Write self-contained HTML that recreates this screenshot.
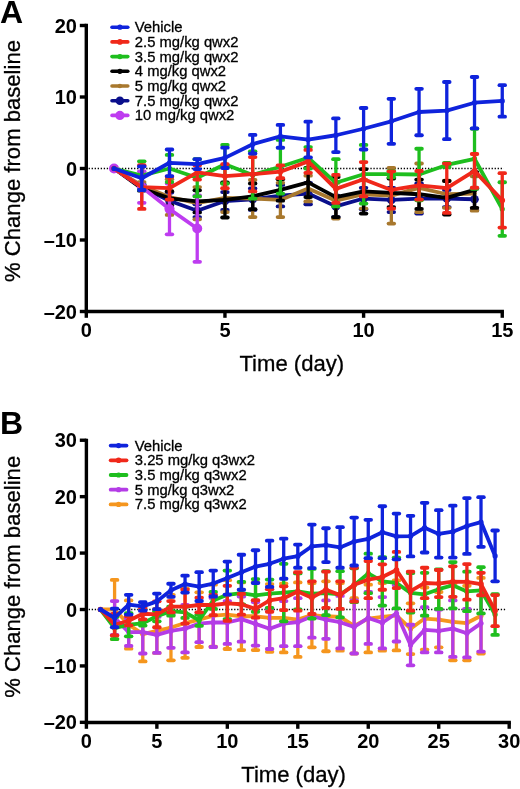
<!DOCTYPE html>
<html><head><meta charset="utf-8"><title>Figure</title>
<style>html,body{margin:0;padding:0;background:#fff;}body{width:520px;height:789px;overflow:hidden;}svg{display:block;}</style></head>
<body>
<svg width="520" height="789" viewBox="0 0 520 789">
<rect width="520" height="789" fill="#fff"/>
<line x1="88.6" y1="168.5" x2="503.75" y2="168.5" stroke="#000" stroke-width="1.3" stroke-dasharray="1.3 1.73"/>
<g stroke="#0a0f8c" fill="#0a0f8c"><line x1="141.76" y1="184.23" x2="141.76" y2="189.95" stroke-width="3.3"/><line x1="138.96" y1="184.23" x2="144.56" y2="184.23" stroke-width="3.8" stroke-linecap="round"/><line x1="138.96" y1="189.95" x2="144.56" y2="189.95" stroke-width="3.8" stroke-linecap="round"/><line x1="169.49" y1="192.6" x2="169.49" y2="208.75" stroke-width="3.3"/><line x1="166.69" y1="192.6" x2="172.29" y2="192.6" stroke-width="3.8" stroke-linecap="round"/><line x1="166.69" y1="208.75" x2="172.29" y2="208.75" stroke-width="3.8" stroke-linecap="round"/><line x1="197.22" y1="204.25" x2="197.22" y2="217.12" stroke-width="3.3"/><line x1="194.42" y1="204.25" x2="200.02" y2="204.25" stroke-width="3.8" stroke-linecap="round"/><line x1="194.42" y1="217.12" x2="200.02" y2="217.12" stroke-width="3.8" stroke-linecap="round"/><line x1="224.95" y1="192.09" x2="224.95" y2="209.97" stroke-width="3.3"/><line x1="222.15" y1="192.09" x2="227.75" y2="192.09" stroke-width="3.8" stroke-linecap="round"/><line x1="222.15" y1="209.97" x2="227.75" y2="209.97" stroke-width="3.8" stroke-linecap="round"/><line x1="252.68" y1="188.52" x2="252.68" y2="209.97" stroke-width="3.3"/><line x1="249.88" y1="188.52" x2="255.48" y2="188.52" stroke-width="3.8" stroke-linecap="round"/><line x1="249.88" y1="209.97" x2="255.48" y2="209.97" stroke-width="3.8" stroke-linecap="round"/><line x1="280.41" y1="184.94" x2="280.41" y2="206.4" stroke-width="3.3"/><line x1="277.61" y1="184.94" x2="283.21" y2="184.94" stroke-width="3.8" stroke-linecap="round"/><line x1="277.61" y1="206.4" x2="283.21" y2="206.4" stroke-width="3.8" stroke-linecap="round"/><line x1="308.14" y1="182.8" x2="308.14" y2="204.25" stroke-width="3.3"/><line x1="305.34" y1="182.8" x2="310.94" y2="182.8" stroke-width="3.8" stroke-linecap="round"/><line x1="305.34" y1="204.25" x2="310.94" y2="204.25" stroke-width="3.8" stroke-linecap="round"/><line x1="335.87" y1="195.67" x2="335.87" y2="217.12" stroke-width="3.3"/><line x1="333.07" y1="195.67" x2="338.67" y2="195.67" stroke-width="3.8" stroke-linecap="round"/><line x1="333.07" y1="217.12" x2="338.67" y2="217.12" stroke-width="3.8" stroke-linecap="round"/><line x1="363.6" y1="187.81" x2="363.6" y2="209.25" stroke-width="3.3"/><line x1="360.8" y1="187.81" x2="366.4" y2="187.81" stroke-width="3.8" stroke-linecap="round"/><line x1="360.8" y1="209.25" x2="366.4" y2="209.25" stroke-width="3.8" stroke-linecap="round"/><line x1="391.33" y1="187.81" x2="391.33" y2="212.12" stroke-width="3.3"/><line x1="388.53" y1="187.81" x2="394.13" y2="187.81" stroke-width="3.8" stroke-linecap="round"/><line x1="388.53" y1="212.12" x2="394.13" y2="212.12" stroke-width="3.8" stroke-linecap="round"/><line x1="419.06" y1="183.51" x2="419.06" y2="213.55" stroke-width="3.3"/><line x1="416.26" y1="183.51" x2="421.86" y2="183.51" stroke-width="3.8" stroke-linecap="round"/><line x1="416.26" y1="213.55" x2="421.86" y2="213.55" stroke-width="3.8" stroke-linecap="round"/><line x1="446.79" y1="189.95" x2="446.79" y2="207.11" stroke-width="3.3"/><line x1="443.99" y1="189.95" x2="449.59" y2="189.95" stroke-width="3.8" stroke-linecap="round"/><line x1="443.99" y1="207.11" x2="449.59" y2="207.11" stroke-width="3.8" stroke-linecap="round"/><line x1="474.52" y1="188.52" x2="474.52" y2="209.97" stroke-width="3.3"/><line x1="471.72" y1="188.52" x2="477.32" y2="188.52" stroke-width="3.8" stroke-linecap="round"/><line x1="471.72" y1="209.97" x2="477.32" y2="209.97" stroke-width="3.8" stroke-linecap="round"/><polyline points="114.03,168.5 141.76,187.09 169.49,200.68 197.22,210.69 224.95,201.03 252.68,199.25 280.41,195.67 308.14,193.53 335.87,206.4 363.6,198.53 391.33,199.96 419.06,198.53 446.79,198.53 474.52,199.25" fill="none" stroke-width="3.8" stroke-linejoin="round"/><circle cx="114.03" cy="168.5" r="4.3" stroke="none"/><circle cx="141.76" cy="187.09" r="4.3" stroke="none"/><circle cx="169.49" cy="200.68" r="4.3" stroke="none"/><circle cx="197.22" cy="210.69" r="4.3" stroke="none"/><circle cx="224.95" cy="201.03" r="4.3" stroke="none"/><circle cx="252.68" cy="199.25" r="4.3" stroke="none"/><circle cx="280.41" cy="195.67" r="4.3" stroke="none"/><circle cx="308.14" cy="193.53" r="4.3" stroke="none"/><circle cx="335.87" cy="206.4" r="4.3" stroke="none"/><circle cx="363.6" cy="198.53" r="4.3" stroke="none"/><circle cx="391.33" cy="199.96" r="4.3" stroke="none"/><circle cx="419.06" cy="198.53" r="4.3" stroke="none"/><circle cx="446.79" cy="198.53" r="4.3" stroke="none"/><circle cx="474.52" cy="199.25" r="4.3" stroke="none"/></g>
<g stroke="#a8782e" fill="#a8782e"><line x1="141.76" y1="182.09" x2="141.76" y2="189.24" stroke-width="3.3"/><line x1="138.96" y1="182.09" x2="144.56" y2="182.09" stroke-width="3.8" stroke-linecap="round"/><line x1="138.96" y1="189.24" x2="144.56" y2="189.24" stroke-width="3.8" stroke-linecap="round"/><line x1="169.49" y1="179.22" x2="169.49" y2="214.97" stroke-width="3.3"/><line x1="166.69" y1="179.22" x2="172.29" y2="179.22" stroke-width="3.8" stroke-linecap="round"/><line x1="166.69" y1="214.97" x2="172.29" y2="214.97" stroke-width="3.8" stroke-linecap="round"/><line x1="197.22" y1="187.09" x2="197.22" y2="219.26" stroke-width="3.3"/><line x1="194.42" y1="187.09" x2="200.02" y2="187.09" stroke-width="3.8" stroke-linecap="round"/><line x1="194.42" y1="219.26" x2="200.02" y2="219.26" stroke-width="3.8" stroke-linecap="round"/><line x1="224.95" y1="183.51" x2="224.95" y2="212.12" stroke-width="3.3"/><line x1="222.15" y1="183.51" x2="227.75" y2="183.51" stroke-width="3.8" stroke-linecap="round"/><line x1="222.15" y1="212.12" x2="227.75" y2="212.12" stroke-width="3.8" stroke-linecap="round"/><line x1="252.68" y1="179.94" x2="252.68" y2="217.12" stroke-width="3.3"/><line x1="249.88" y1="179.94" x2="255.48" y2="179.94" stroke-width="3.8" stroke-linecap="round"/><line x1="249.88" y1="217.12" x2="255.48" y2="217.12" stroke-width="3.8" stroke-linecap="round"/><line x1="280.41" y1="182.8" x2="280.41" y2="217.12" stroke-width="3.3"/><line x1="277.61" y1="182.8" x2="283.21" y2="182.8" stroke-width="3.8" stroke-linecap="round"/><line x1="277.61" y1="217.12" x2="283.21" y2="217.12" stroke-width="3.8" stroke-linecap="round"/><line x1="308.14" y1="175.65" x2="308.14" y2="201.39" stroke-width="3.3"/><line x1="305.34" y1="175.65" x2="310.94" y2="175.65" stroke-width="3.8" stroke-linecap="round"/><line x1="305.34" y1="201.39" x2="310.94" y2="201.39" stroke-width="3.8" stroke-linecap="round"/><line x1="335.87" y1="182.8" x2="335.87" y2="218.55" stroke-width="3.3"/><line x1="333.07" y1="182.8" x2="338.67" y2="182.8" stroke-width="3.8" stroke-linecap="round"/><line x1="333.07" y1="218.55" x2="338.67" y2="218.55" stroke-width="3.8" stroke-linecap="round"/><line x1="363.6" y1="179.94" x2="363.6" y2="208.54" stroke-width="3.3"/><line x1="360.8" y1="179.94" x2="366.4" y2="179.94" stroke-width="3.8" stroke-linecap="round"/><line x1="360.8" y1="208.54" x2="366.4" y2="208.54" stroke-width="3.8" stroke-linecap="round"/><line x1="391.33" y1="167.78" x2="391.33" y2="223.56" stroke-width="3.3"/><line x1="388.53" y1="167.78" x2="394.13" y2="167.78" stroke-width="3.8" stroke-linecap="round"/><line x1="388.53" y1="223.56" x2="394.13" y2="223.56" stroke-width="3.8" stroke-linecap="round"/><line x1="419.06" y1="163.5" x2="419.06" y2="212.12" stroke-width="3.3"/><line x1="416.26" y1="163.5" x2="421.86" y2="163.5" stroke-width="3.8" stroke-linecap="round"/><line x1="416.26" y1="212.12" x2="421.86" y2="212.12" stroke-width="3.8" stroke-linecap="round"/><line x1="446.79" y1="180.66" x2="446.79" y2="207.82" stroke-width="3.3"/><line x1="443.99" y1="180.66" x2="449.59" y2="180.66" stroke-width="3.8" stroke-linecap="round"/><line x1="443.99" y1="207.82" x2="449.59" y2="207.82" stroke-width="3.8" stroke-linecap="round"/><line x1="474.52" y1="176.37" x2="474.52" y2="210.69" stroke-width="3.3"/><line x1="471.72" y1="176.37" x2="477.32" y2="176.37" stroke-width="3.8" stroke-linecap="round"/><line x1="471.72" y1="210.69" x2="477.32" y2="210.69" stroke-width="3.8" stroke-linecap="round"/><polyline points="114.03,168.5 141.76,185.66 169.49,197.1 197.22,203.18 224.95,197.81 252.68,198.53 280.41,199.96 308.14,188.52 335.87,200.68 363.6,194.24 391.33,195.67 419.06,187.81 446.79,194.24 474.52,193.53" fill="none" stroke-width="3.8" stroke-linejoin="round"/><circle cx="114.03" cy="168.5" r="2.2" stroke="none"/><circle cx="141.76" cy="185.66" r="2.2" stroke="none"/><circle cx="169.49" cy="197.1" r="2.2" stroke="none"/><circle cx="197.22" cy="203.18" r="2.2" stroke="none"/><circle cx="224.95" cy="197.81" r="2.2" stroke="none"/><circle cx="252.68" cy="198.53" r="2.2" stroke="none"/><circle cx="280.41" cy="199.96" r="2.2" stroke="none"/><circle cx="308.14" cy="188.52" r="2.2" stroke="none"/><circle cx="335.87" cy="200.68" r="2.2" stroke="none"/><circle cx="363.6" cy="194.24" r="2.2" stroke="none"/><circle cx="391.33" cy="195.67" r="2.2" stroke="none"/><circle cx="419.06" cy="187.81" r="2.2" stroke="none"/><circle cx="446.79" cy="194.24" r="2.2" stroke="none"/><circle cx="474.52" cy="193.53" r="2.2" stroke="none"/></g>
<g stroke="#000000" fill="#000000"><line x1="141.76" y1="186.38" x2="141.76" y2="190.66" stroke-width="3.3"/><line x1="138.96" y1="186.38" x2="144.56" y2="186.38" stroke-width="3.8" stroke-linecap="round"/><line x1="138.96" y1="190.66" x2="144.56" y2="190.66" stroke-width="3.8" stroke-linecap="round"/><line x1="169.49" y1="191.17" x2="169.49" y2="205.47" stroke-width="3.3"/><line x1="166.69" y1="191.17" x2="172.29" y2="191.17" stroke-width="3.8" stroke-linecap="round"/><line x1="166.69" y1="205.47" x2="172.29" y2="205.47" stroke-width="3.8" stroke-linecap="round"/><line x1="197.22" y1="190.31" x2="197.22" y2="212.47" stroke-width="3.3"/><line x1="194.42" y1="190.31" x2="200.02" y2="190.31" stroke-width="3.8" stroke-linecap="round"/><line x1="194.42" y1="212.47" x2="200.02" y2="212.47" stroke-width="3.8" stroke-linecap="round"/><line x1="224.95" y1="182.44" x2="224.95" y2="217.48" stroke-width="3.3"/><line x1="222.15" y1="182.44" x2="227.75" y2="182.44" stroke-width="3.8" stroke-linecap="round"/><line x1="222.15" y1="217.48" x2="227.75" y2="217.48" stroke-width="3.8" stroke-linecap="round"/><line x1="252.68" y1="183.51" x2="252.68" y2="209.25" stroke-width="3.3"/><line x1="249.88" y1="183.51" x2="255.48" y2="183.51" stroke-width="3.8" stroke-linecap="round"/><line x1="249.88" y1="209.25" x2="255.48" y2="209.25" stroke-width="3.8" stroke-linecap="round"/><line x1="280.41" y1="179.22" x2="280.41" y2="200.68" stroke-width="3.3"/><line x1="277.61" y1="179.22" x2="283.21" y2="179.22" stroke-width="3.8" stroke-linecap="round"/><line x1="277.61" y1="200.68" x2="283.21" y2="200.68" stroke-width="3.8" stroke-linecap="round"/><line x1="308.14" y1="167.78" x2="308.14" y2="197.1" stroke-width="3.3"/><line x1="305.34" y1="167.78" x2="310.94" y2="167.78" stroke-width="3.8" stroke-linecap="round"/><line x1="305.34" y1="197.1" x2="310.94" y2="197.1" stroke-width="3.8" stroke-linecap="round"/><line x1="335.87" y1="177.08" x2="335.87" y2="217.12" stroke-width="3.3"/><line x1="333.07" y1="177.08" x2="338.67" y2="177.08" stroke-width="3.8" stroke-linecap="round"/><line x1="333.07" y1="217.12" x2="338.67" y2="217.12" stroke-width="3.8" stroke-linecap="round"/><line x1="363.6" y1="169.22" x2="363.6" y2="213.55" stroke-width="3.3"/><line x1="360.8" y1="169.22" x2="366.4" y2="169.22" stroke-width="3.8" stroke-linecap="round"/><line x1="360.8" y1="213.55" x2="366.4" y2="213.55" stroke-width="3.8" stroke-linecap="round"/><line x1="391.33" y1="178.51" x2="391.33" y2="207.11" stroke-width="3.3"/><line x1="388.53" y1="178.51" x2="394.13" y2="178.51" stroke-width="3.8" stroke-linecap="round"/><line x1="388.53" y1="207.11" x2="394.13" y2="207.11" stroke-width="3.8" stroke-linecap="round"/><line x1="419.06" y1="179.58" x2="419.06" y2="208.9" stroke-width="3.3"/><line x1="416.26" y1="179.58" x2="421.86" y2="179.58" stroke-width="3.8" stroke-linecap="round"/><line x1="416.26" y1="208.9" x2="421.86" y2="208.9" stroke-width="3.8" stroke-linecap="round"/><line x1="446.79" y1="181.01" x2="446.79" y2="214.62" stroke-width="3.3"/><line x1="443.99" y1="181.01" x2="449.59" y2="181.01" stroke-width="3.8" stroke-linecap="round"/><line x1="443.99" y1="214.62" x2="449.59" y2="214.62" stroke-width="3.8" stroke-linecap="round"/><line x1="474.52" y1="172.07" x2="474.52" y2="207.82" stroke-width="3.3"/><line x1="471.72" y1="172.07" x2="477.32" y2="172.07" stroke-width="3.8" stroke-linecap="round"/><line x1="471.72" y1="207.82" x2="477.32" y2="207.82" stroke-width="3.8" stroke-linecap="round"/><polyline points="114.03,168.5 141.76,188.52 169.49,198.32 197.22,201.39 224.95,199.96 252.68,196.38 280.41,189.95 308.14,182.44 335.87,197.1 363.6,191.38 391.33,192.81 419.06,194.24 446.79,197.81 474.52,189.95" fill="none" stroke-width="3.8" stroke-linejoin="round"/><circle cx="114.03" cy="168.5" r="2.6" stroke="none"/><circle cx="141.76" cy="188.52" r="2.6" stroke="none"/><circle cx="169.49" cy="198.32" r="2.6" stroke="none"/><circle cx="197.22" cy="201.39" r="2.6" stroke="none"/><circle cx="224.95" cy="199.96" r="2.6" stroke="none"/><circle cx="252.68" cy="196.38" r="2.6" stroke="none"/><circle cx="280.41" cy="189.95" r="2.6" stroke="none"/><circle cx="308.14" cy="182.44" r="2.6" stroke="none"/><circle cx="335.87" cy="197.1" r="2.6" stroke="none"/><circle cx="363.6" cy="191.38" r="2.6" stroke="none"/><circle cx="391.33" cy="192.81" r="2.6" stroke="none"/><circle cx="419.06" cy="194.24" r="2.6" stroke="none"/><circle cx="446.79" cy="197.81" r="2.6" stroke="none"/><circle cx="474.52" cy="189.95" r="2.6" stroke="none"/></g>
<g stroke="#be3cf0" fill="#be3cf0"><line x1="141.76" y1="171.36" x2="141.76" y2="202.82" stroke-width="3.3"/><line x1="138.96" y1="171.36" x2="144.56" y2="171.36" stroke-width="3.8" stroke-linecap="round"/><line x1="138.96" y1="202.82" x2="144.56" y2="202.82" stroke-width="3.8" stroke-linecap="round"/><line x1="169.49" y1="183.59" x2="169.49" y2="234.35" stroke-width="3.3"/><line x1="166.69" y1="183.59" x2="172.29" y2="183.59" stroke-width="3.8" stroke-linecap="round"/><line x1="166.69" y1="234.35" x2="172.29" y2="234.35" stroke-width="3.8" stroke-linecap="round"/><line x1="197.22" y1="195.31" x2="197.22" y2="261.81" stroke-width="3.3"/><line x1="194.42" y1="195.31" x2="200.02" y2="195.31" stroke-width="3.8" stroke-linecap="round"/><line x1="194.42" y1="261.81" x2="200.02" y2="261.81" stroke-width="3.8" stroke-linecap="round"/><polyline points="114.03,168.5 141.76,187.09 169.49,208.97 197.22,228.56" fill="none" stroke-width="3.8" stroke-linejoin="round"/><circle cx="114.03" cy="168.5" r="5.0" stroke="none"/><circle cx="141.76" cy="187.09" r="5.0" stroke="none"/><circle cx="169.49" cy="208.97" r="5.0" stroke="none"/><circle cx="197.22" cy="228.56" r="5.0" stroke="none"/></g>
<g stroke="#1ebe1e" fill="#1ebe1e"><line x1="141.76" y1="161.35" x2="141.76" y2="189.95" stroke-width="3.3"/><line x1="138.96" y1="161.35" x2="144.56" y2="161.35" stroke-width="3.8" stroke-linecap="round"/><line x1="138.96" y1="189.95" x2="144.56" y2="189.95" stroke-width="3.8" stroke-linecap="round"/><line x1="169.49" y1="154.91" x2="169.49" y2="182.09" stroke-width="3.3"/><line x1="166.69" y1="154.91" x2="172.29" y2="154.91" stroke-width="3.8" stroke-linecap="round"/><line x1="166.69" y1="182.09" x2="172.29" y2="182.09" stroke-width="3.8" stroke-linecap="round"/><line x1="197.22" y1="159.21" x2="197.22" y2="196.38" stroke-width="3.3"/><line x1="194.42" y1="159.21" x2="200.02" y2="159.21" stroke-width="3.8" stroke-linecap="round"/><line x1="194.42" y1="196.38" x2="200.02" y2="196.38" stroke-width="3.8" stroke-linecap="round"/><line x1="224.95" y1="144.91" x2="224.95" y2="183.51" stroke-width="3.3"/><line x1="222.15" y1="144.91" x2="227.75" y2="144.91" stroke-width="3.8" stroke-linecap="round"/><line x1="222.15" y1="183.51" x2="227.75" y2="183.51" stroke-width="3.8" stroke-linecap="round"/><line x1="252.68" y1="151.34" x2="252.68" y2="198.53" stroke-width="3.3"/><line x1="249.88" y1="151.34" x2="255.48" y2="151.34" stroke-width="3.8" stroke-linecap="round"/><line x1="249.88" y1="198.53" x2="255.48" y2="198.53" stroke-width="3.8" stroke-linecap="round"/><line x1="280.41" y1="139.9" x2="280.41" y2="193.53" stroke-width="3.3"/><line x1="277.61" y1="139.9" x2="283.21" y2="139.9" stroke-width="3.8" stroke-linecap="round"/><line x1="277.61" y1="193.53" x2="283.21" y2="193.53" stroke-width="3.8" stroke-linecap="round"/><line x1="308.14" y1="147.05" x2="308.14" y2="168.5" stroke-width="3.3"/><line x1="305.34" y1="147.05" x2="310.94" y2="147.05" stroke-width="3.8" stroke-linecap="round"/><line x1="305.34" y1="168.5" x2="310.94" y2="168.5" stroke-width="3.8" stroke-linecap="round"/><line x1="335.87" y1="159.21" x2="335.87" y2="206.4" stroke-width="3.3"/><line x1="333.07" y1="159.21" x2="338.67" y2="159.21" stroke-width="3.8" stroke-linecap="round"/><line x1="333.07" y1="206.4" x2="338.67" y2="206.4" stroke-width="3.8" stroke-linecap="round"/><line x1="363.6" y1="144.91" x2="363.6" y2="203.53" stroke-width="3.3"/><line x1="360.8" y1="144.91" x2="366.4" y2="144.91" stroke-width="3.8" stroke-linecap="round"/><line x1="360.8" y1="203.53" x2="366.4" y2="203.53" stroke-width="3.8" stroke-linecap="round"/><line x1="391.33" y1="170.86" x2="391.33" y2="177.29" stroke-width="3.3"/><line x1="388.53" y1="170.86" x2="394.13" y2="170.86" stroke-width="3.8" stroke-linecap="round"/><line x1="388.53" y1="177.29" x2="394.13" y2="177.29" stroke-width="3.8" stroke-linecap="round"/><line x1="419.06" y1="148.77" x2="419.06" y2="200.25" stroke-width="3.3"/><line x1="416.26" y1="148.77" x2="421.86" y2="148.77" stroke-width="3.8" stroke-linecap="round"/><line x1="416.26" y1="200.25" x2="421.86" y2="200.25" stroke-width="3.8" stroke-linecap="round"/><line x1="446.79" y1="162.78" x2="446.79" y2="167.07" stroke-width="3.3"/><line x1="443.99" y1="162.78" x2="449.59" y2="162.78" stroke-width="3.8" stroke-linecap="round"/><line x1="443.99" y1="167.07" x2="449.59" y2="167.07" stroke-width="3.8" stroke-linecap="round"/><line x1="474.52" y1="128.75" x2="474.52" y2="188.81" stroke-width="3.3"/><line x1="471.72" y1="128.75" x2="477.32" y2="128.75" stroke-width="3.8" stroke-linecap="round"/><line x1="471.72" y1="188.81" x2="477.32" y2="188.81" stroke-width="3.8" stroke-linecap="round"/><line x1="502.25" y1="182.23" x2="502.25" y2="235.85" stroke-width="3.3"/><line x1="499.45" y1="182.23" x2="505.05" y2="182.23" stroke-width="3.8" stroke-linecap="round"/><line x1="499.45" y1="235.85" x2="505.05" y2="235.85" stroke-width="3.8" stroke-linecap="round"/><polyline points="114.03,168.5 141.76,175.65 169.49,168.5 197.22,177.79 224.95,164.21 252.68,174.94 280.41,166.71 308.14,157.78 335.87,182.8 363.6,174.22 391.33,174.08 419.06,174.51 446.79,164.93 474.52,158.78 502.25,209.04" fill="none" stroke-width="3.8" stroke-linejoin="round"/><circle cx="114.03" cy="168.5" r="2.6" stroke="none"/><circle cx="141.76" cy="175.65" r="2.6" stroke="none"/><circle cx="169.49" cy="168.5" r="2.6" stroke="none"/><circle cx="197.22" cy="177.79" r="2.6" stroke="none"/><circle cx="224.95" cy="164.21" r="2.6" stroke="none"/><circle cx="252.68" cy="174.94" r="2.6" stroke="none"/><circle cx="280.41" cy="166.71" r="2.6" stroke="none"/><circle cx="308.14" cy="157.78" r="2.6" stroke="none"/><circle cx="335.87" cy="182.8" r="2.6" stroke="none"/><circle cx="363.6" cy="174.22" r="2.6" stroke="none"/><circle cx="391.33" cy="174.08" r="2.6" stroke="none"/><circle cx="419.06" cy="174.51" r="2.6" stroke="none"/><circle cx="446.79" cy="164.93" r="2.6" stroke="none"/><circle cx="474.52" cy="158.78" r="2.6" stroke="none"/><circle cx="502.25" cy="209.04" r="2.6" stroke="none"/></g>
<g stroke="#f0281a" fill="#f0281a"><line x1="141.76" y1="165.21" x2="141.76" y2="208.97" stroke-width="3.3"/><line x1="138.96" y1="165.21" x2="144.56" y2="165.21" stroke-width="3.8" stroke-linecap="round"/><line x1="138.96" y1="208.97" x2="144.56" y2="208.97" stroke-width="3.8" stroke-linecap="round"/><line x1="169.49" y1="176.72" x2="169.49" y2="199.6" stroke-width="3.3"/><line x1="166.69" y1="176.72" x2="172.29" y2="176.72" stroke-width="3.8" stroke-linecap="round"/><line x1="166.69" y1="199.6" x2="172.29" y2="199.6" stroke-width="3.8" stroke-linecap="round"/><line x1="197.22" y1="165.28" x2="197.22" y2="179.58" stroke-width="3.3"/><line x1="194.42" y1="165.28" x2="200.02" y2="165.28" stroke-width="3.8" stroke-linecap="round"/><line x1="194.42" y1="179.58" x2="200.02" y2="179.58" stroke-width="3.8" stroke-linecap="round"/><line x1="224.95" y1="164.21" x2="224.95" y2="188.23" stroke-width="3.3"/><line x1="222.15" y1="164.21" x2="227.75" y2="164.21" stroke-width="3.8" stroke-linecap="round"/><line x1="222.15" y1="188.23" x2="227.75" y2="188.23" stroke-width="3.8" stroke-linecap="round"/><line x1="252.68" y1="157.06" x2="252.68" y2="191.38" stroke-width="3.3"/><line x1="249.88" y1="157.06" x2="255.48" y2="157.06" stroke-width="3.8" stroke-linecap="round"/><line x1="249.88" y1="191.38" x2="255.48" y2="191.38" stroke-width="3.8" stroke-linecap="round"/><line x1="280.41" y1="165.28" x2="280.41" y2="178.15" stroke-width="3.3"/><line x1="277.61" y1="165.28" x2="283.21" y2="165.28" stroke-width="3.8" stroke-linecap="round"/><line x1="277.61" y1="178.15" x2="283.21" y2="178.15" stroke-width="3.8" stroke-linecap="round"/><line x1="308.14" y1="149.91" x2="308.14" y2="172.79" stroke-width="3.3"/><line x1="305.34" y1="149.91" x2="310.94" y2="149.91" stroke-width="3.8" stroke-linecap="round"/><line x1="305.34" y1="172.79" x2="310.94" y2="172.79" stroke-width="3.8" stroke-linecap="round"/><line x1="335.87" y1="174.94" x2="335.87" y2="202.82" stroke-width="3.3"/><line x1="333.07" y1="174.94" x2="338.67" y2="174.94" stroke-width="3.8" stroke-linecap="round"/><line x1="333.07" y1="202.82" x2="338.67" y2="202.82" stroke-width="3.8" stroke-linecap="round"/><line x1="363.6" y1="162.06" x2="363.6" y2="196.38" stroke-width="3.3"/><line x1="360.8" y1="162.06" x2="366.4" y2="162.06" stroke-width="3.8" stroke-linecap="round"/><line x1="360.8" y1="196.38" x2="366.4" y2="196.38" stroke-width="3.8" stroke-linecap="round"/><line x1="391.33" y1="171.36" x2="391.33" y2="208.54" stroke-width="3.3"/><line x1="388.53" y1="171.36" x2="394.13" y2="171.36" stroke-width="3.8" stroke-linecap="round"/><line x1="388.53" y1="208.54" x2="394.13" y2="208.54" stroke-width="3.8" stroke-linecap="round"/><line x1="419.06" y1="171" x2="419.06" y2="199.6" stroke-width="3.3"/><line x1="416.26" y1="171" x2="421.86" y2="171" stroke-width="3.8" stroke-linecap="round"/><line x1="416.26" y1="199.6" x2="421.86" y2="199.6" stroke-width="3.8" stroke-linecap="round"/><line x1="446.79" y1="163.57" x2="446.79" y2="212.9" stroke-width="3.3"/><line x1="443.99" y1="163.57" x2="449.59" y2="163.57" stroke-width="3.8" stroke-linecap="round"/><line x1="443.99" y1="212.9" x2="449.59" y2="212.9" stroke-width="3.8" stroke-linecap="round"/><line x1="474.52" y1="153.99" x2="474.52" y2="187.73" stroke-width="3.3"/><line x1="471.72" y1="153.99" x2="477.32" y2="153.99" stroke-width="3.8" stroke-linecap="round"/><line x1="471.72" y1="187.73" x2="477.32" y2="187.73" stroke-width="3.8" stroke-linecap="round"/><line x1="502.25" y1="173.22" x2="502.25" y2="227.56" stroke-width="3.3"/><line x1="499.45" y1="173.22" x2="505.05" y2="173.22" stroke-width="3.8" stroke-linecap="round"/><line x1="499.45" y1="227.56" x2="505.05" y2="227.56" stroke-width="3.8" stroke-linecap="round"/><polyline points="114.03,168.5 141.76,187.09 169.49,188.16 197.22,172.43 224.95,176.22 252.68,174.22 280.41,171.72 308.14,161.35 335.87,188.88 363.6,179.22 391.33,189.95 419.06,185.3 446.79,188.23 474.52,170.86 502.25,200.39" fill="none" stroke-width="3.8" stroke-linejoin="round"/><circle cx="114.03" cy="168.5" r="2.8" stroke="none"/><circle cx="141.76" cy="187.09" r="2.8" stroke="none"/><circle cx="169.49" cy="188.16" r="2.8" stroke="none"/><circle cx="197.22" cy="172.43" r="2.8" stroke="none"/><circle cx="224.95" cy="176.22" r="2.8" stroke="none"/><circle cx="252.68" cy="174.22" r="2.8" stroke="none"/><circle cx="280.41" cy="171.72" r="2.8" stroke="none"/><circle cx="308.14" cy="161.35" r="2.8" stroke="none"/><circle cx="335.87" cy="188.88" r="2.8" stroke="none"/><circle cx="363.6" cy="179.22" r="2.8" stroke="none"/><circle cx="391.33" cy="189.95" r="2.8" stroke="none"/><circle cx="419.06" cy="185.3" r="2.8" stroke="none"/><circle cx="446.79" cy="188.23" r="2.8" stroke="none"/><circle cx="474.52" cy="170.86" r="2.8" stroke="none"/><circle cx="502.25" cy="200.39" r="2.8" stroke="none"/></g>
<g stroke="#0f23dc" fill="#0f23dc"><line x1="141.76" y1="166.43" x2="141.76" y2="190.02" stroke-width="3.3"/><line x1="138.96" y1="166.43" x2="144.56" y2="166.43" stroke-width="3.8" stroke-linecap="round"/><line x1="138.96" y1="190.02" x2="144.56" y2="190.02" stroke-width="3.8" stroke-linecap="round"/><line x1="169.49" y1="149.48" x2="169.49" y2="176.08" stroke-width="3.3"/><line x1="166.69" y1="149.48" x2="172.29" y2="149.48" stroke-width="3.8" stroke-linecap="round"/><line x1="166.69" y1="176.08" x2="172.29" y2="176.08" stroke-width="3.8" stroke-linecap="round"/><line x1="197.22" y1="159.06" x2="197.22" y2="169.07" stroke-width="3.3"/><line x1="194.42" y1="159.06" x2="200.02" y2="159.06" stroke-width="3.8" stroke-linecap="round"/><line x1="194.42" y1="169.07" x2="200.02" y2="169.07" stroke-width="3.8" stroke-linecap="round"/><line x1="224.95" y1="147.69" x2="224.95" y2="168" stroke-width="3.3"/><line x1="222.15" y1="147.69" x2="227.75" y2="147.69" stroke-width="3.8" stroke-linecap="round"/><line x1="222.15" y1="168" x2="227.75" y2="168" stroke-width="3.8" stroke-linecap="round"/><line x1="252.68" y1="134.89" x2="252.68" y2="153.49" stroke-width="3.3"/><line x1="249.88" y1="134.89" x2="255.48" y2="134.89" stroke-width="3.8" stroke-linecap="round"/><line x1="249.88" y1="153.49" x2="255.48" y2="153.49" stroke-width="3.8" stroke-linecap="round"/><line x1="280.41" y1="124.88" x2="280.41" y2="147.76" stroke-width="3.3"/><line x1="277.61" y1="124.88" x2="283.21" y2="124.88" stroke-width="3.8" stroke-linecap="round"/><line x1="277.61" y1="147.76" x2="283.21" y2="147.76" stroke-width="3.8" stroke-linecap="round"/><line x1="308.14" y1="121.67" x2="308.14" y2="157.42" stroke-width="3.3"/><line x1="305.34" y1="121.67" x2="310.94" y2="121.67" stroke-width="3.8" stroke-linecap="round"/><line x1="305.34" y1="157.42" x2="310.94" y2="157.42" stroke-width="3.8" stroke-linecap="round"/><line x1="335.87" y1="118.45" x2="335.87" y2="152.06" stroke-width="3.3"/><line x1="333.07" y1="118.45" x2="338.67" y2="118.45" stroke-width="3.8" stroke-linecap="round"/><line x1="333.07" y1="152.06" x2="338.67" y2="152.06" stroke-width="3.8" stroke-linecap="round"/><line x1="363.6" y1="108.01" x2="363.6" y2="149.48" stroke-width="3.3"/><line x1="360.8" y1="108.01" x2="366.4" y2="108.01" stroke-width="3.8" stroke-linecap="round"/><line x1="360.8" y1="149.48" x2="366.4" y2="149.48" stroke-width="3.8" stroke-linecap="round"/><line x1="391.33" y1="98.79" x2="391.33" y2="143.83" stroke-width="3.3"/><line x1="388.53" y1="98.79" x2="394.13" y2="98.79" stroke-width="3.8" stroke-linecap="round"/><line x1="388.53" y1="143.83" x2="394.13" y2="143.83" stroke-width="3.8" stroke-linecap="round"/><line x1="419.06" y1="88.78" x2="419.06" y2="135.25" stroke-width="3.3"/><line x1="416.26" y1="88.78" x2="421.86" y2="88.78" stroke-width="3.8" stroke-linecap="round"/><line x1="416.26" y1="135.25" x2="421.86" y2="135.25" stroke-width="3.8" stroke-linecap="round"/><line x1="446.79" y1="81.98" x2="446.79" y2="139.19" stroke-width="3.3"/><line x1="443.99" y1="81.98" x2="449.59" y2="81.98" stroke-width="3.8" stroke-linecap="round"/><line x1="443.99" y1="139.19" x2="449.59" y2="139.19" stroke-width="3.8" stroke-linecap="round"/><line x1="474.52" y1="76.98" x2="474.52" y2="128.46" stroke-width="3.3"/><line x1="471.72" y1="76.98" x2="477.32" y2="76.98" stroke-width="3.8" stroke-linecap="round"/><line x1="471.72" y1="128.46" x2="477.32" y2="128.46" stroke-width="3.8" stroke-linecap="round"/><line x1="502.25" y1="85.2" x2="502.25" y2="116.66" stroke-width="3.3"/><line x1="499.45" y1="85.2" x2="505.05" y2="85.2" stroke-width="3.8" stroke-linecap="round"/><line x1="499.45" y1="116.66" x2="505.05" y2="116.66" stroke-width="3.8" stroke-linecap="round"/><polyline points="114.03,168.5 141.76,178.22 169.49,162.78 197.22,164.07 224.95,157.85 252.68,144.19 280.41,136.32 308.14,139.54 335.87,135.25 363.6,128.75 391.33,121.31 419.06,112.01 446.79,110.59 474.52,102.72 502.25,100.93" fill="none" stroke-width="3.8" stroke-linejoin="round"/><circle cx="114.03" cy="168.5" r="2.6" stroke="none"/><circle cx="141.76" cy="178.22" r="2.6" stroke="none"/><circle cx="169.49" cy="162.78" r="2.6" stroke="none"/><circle cx="197.22" cy="164.07" r="2.6" stroke="none"/><circle cx="224.95" cy="157.85" r="2.6" stroke="none"/><circle cx="252.68" cy="144.19" r="2.6" stroke="none"/><circle cx="280.41" cy="136.32" r="2.6" stroke="none"/><circle cx="308.14" cy="139.54" r="2.6" stroke="none"/><circle cx="335.87" cy="135.25" r="2.6" stroke="none"/><circle cx="363.6" cy="128.75" r="2.6" stroke="none"/><circle cx="391.33" cy="121.31" r="2.6" stroke="none"/><circle cx="419.06" cy="112.01" r="2.6" stroke="none"/><circle cx="446.79" cy="110.59" r="2.6" stroke="none"/><circle cx="474.52" cy="102.72" r="2.6" stroke="none"/><circle cx="502.25" cy="100.93" r="2.6" stroke="none"/></g>
<g stroke="#000" stroke-width="3.4" fill="none">
<path d="M86.3 23.8 V311.5 H503.95 V311.5" stroke-linejoin="miter"/>
<line x1="79.8" y1="25.5" x2="86.3" y2="25.5"/>
<line x1="79.8" y1="97" x2="86.3" y2="97"/>
<line x1="79.8" y1="168.5" x2="86.3" y2="168.5"/>
<line x1="79.8" y1="240" x2="86.3" y2="240"/>
<line x1="79.8" y1="311.5" x2="86.3" y2="311.5"/>
<line x1="86.3" y1="311.5" x2="86.3" y2="317.8"/>
<line x1="224.95" y1="311.5" x2="224.95" y2="317.8"/>
<line x1="363.6" y1="311.5" x2="363.6" y2="317.8"/>
<line x1="502.25" y1="311.5" x2="502.25" y2="317.8"/>
</g>
<g font-family="Liberation Sans, Arial, sans-serif" font-weight="bold" font-size="20" fill="#000">
<text x="77" y="32.5" text-anchor="end">20</text>
<text x="77" y="104" text-anchor="end">10</text>
<text x="77" y="175.5" text-anchor="end">0</text>
<text x="77" y="247" text-anchor="end">–10</text>
<text x="77" y="318.5" text-anchor="end">–20</text>
<text x="86.3" y="336.5" text-anchor="middle">0</text>
<text x="224.95" y="336.5" text-anchor="middle">5</text>
<text x="363.6" y="336.5" text-anchor="middle">10</text>
<text x="502.25" y="336.5" text-anchor="middle">15</text>
</g>
<g font-family="Liberation Sans, Arial, sans-serif" font-size="14.8" fill="#000">
<line x1="112" y1="27.2" x2="127.8" y2="27.2" stroke="#0f23dc" stroke-width="3.6" stroke-linecap="round"/>
<circle cx="119.9" cy="27.2" r="2.6" fill="#0f23dc"/>
<text x="134.8" y="32.2" stroke="#000" stroke-width="0.3">Vehicle</text>
<line x1="112" y1="41.9" x2="127.8" y2="41.9" stroke="#f0281a" stroke-width="3.6" stroke-linecap="round"/>
<circle cx="119.9" cy="41.9" r="2.8" fill="#f0281a"/>
<text x="134.8" y="46.9" stroke="#000" stroke-width="0.3">2.5 mg/kg qwx2</text>
<line x1="112" y1="56.6" x2="127.8" y2="56.6" stroke="#1ebe1e" stroke-width="3.6" stroke-linecap="round"/>
<circle cx="119.9" cy="56.6" r="2.6" fill="#1ebe1e"/>
<text x="134.8" y="61.6" stroke="#000" stroke-width="0.3">3.5 mg/kg qwx2</text>
<line x1="112" y1="71.3" x2="127.8" y2="71.3" stroke="#000000" stroke-width="3.6" stroke-linecap="round"/>
<circle cx="119.9" cy="71.3" r="2.6" fill="#000000"/>
<text x="134.8" y="76.3" stroke="#000" stroke-width="0.3">4 mg/kg qwx2</text>
<line x1="112" y1="86" x2="127.8" y2="86" stroke="#a8782e" stroke-width="3.6" stroke-linecap="round"/>
<circle cx="119.9" cy="86" r="2.2" fill="#a8782e"/>
<text x="134.8" y="91" stroke="#000" stroke-width="0.3">5 mg/kg qwx2</text>
<line x1="112" y1="100.7" x2="127.8" y2="100.7" stroke="#0a0f8c" stroke-width="3.6" stroke-linecap="round"/>
<circle cx="119.9" cy="100.7" r="4.3" fill="#0a0f8c"/>
<text x="134.8" y="105.7" stroke="#000" stroke-width="0.3">7.5 mg/kg qwx2</text>
<line x1="112" y1="115.4" x2="127.8" y2="115.4" stroke="#be3cf0" stroke-width="3.6" stroke-linecap="round"/>
<circle cx="119.9" cy="115.4" r="4.6" fill="#be3cf0"/>
<text x="134.8" y="120.4" stroke="#000" stroke-width="0.3">10 mg/kg qwx2</text>
</g>
<line x1="88.7" y1="609.5" x2="506.69" y2="609.5" stroke="#000" stroke-width="1.3" stroke-dasharray="1.3 1.73"/>
<g stroke="#f5961e" fill="#f5961e"><line x1="114.59" y1="579.88" x2="114.59" y2="639.12" stroke-width="3.3"/><line x1="111.79" y1="579.88" x2="117.39" y2="579.88" stroke-width="3.8" stroke-linecap="round"/><line x1="111.79" y1="639.12" x2="117.39" y2="639.12" stroke-width="3.8" stroke-linecap="round"/><line x1="128.68" y1="600.47" x2="128.68" y2="648.66" stroke-width="3.3"/><line x1="125.88" y1="600.47" x2="131.48" y2="600.47" stroke-width="3.8" stroke-linecap="round"/><line x1="125.88" y1="648.66" x2="131.48" y2="648.66" stroke-width="3.8" stroke-linecap="round"/><line x1="142.77" y1="606.68" x2="142.77" y2="661.41" stroke-width="3.3"/><line x1="139.97" y1="606.68" x2="145.57" y2="606.68" stroke-width="3.8" stroke-linecap="round"/><line x1="139.97" y1="661.41" x2="145.57" y2="661.41" stroke-width="3.8" stroke-linecap="round"/><line x1="156.87" y1="608.94" x2="156.87" y2="652.94" stroke-width="3.3"/><line x1="154.06" y1="608.94" x2="159.67" y2="608.94" stroke-width="3.8" stroke-linecap="round"/><line x1="154.06" y1="652.94" x2="159.67" y2="652.94" stroke-width="3.8" stroke-linecap="round"/><line x1="170.96" y1="594.83" x2="170.96" y2="660.28" stroke-width="3.3"/><line x1="168.16" y1="594.83" x2="173.76" y2="594.83" stroke-width="3.8" stroke-linecap="round"/><line x1="168.16" y1="660.28" x2="173.76" y2="660.28" stroke-width="3.8" stroke-linecap="round"/><line x1="185.05" y1="588.29" x2="185.05" y2="657.8" stroke-width="3.3"/><line x1="182.25" y1="588.29" x2="187.85" y2="588.29" stroke-width="3.8" stroke-linecap="round"/><line x1="182.25" y1="657.8" x2="187.85" y2="657.8" stroke-width="3.8" stroke-linecap="round"/><line x1="199.14" y1="592.29" x2="199.14" y2="647.02" stroke-width="3.3"/><line x1="196.34" y1="592.29" x2="201.94" y2="592.29" stroke-width="3.8" stroke-linecap="round"/><line x1="196.34" y1="647.02" x2="201.94" y2="647.02" stroke-width="3.8" stroke-linecap="round"/><line x1="213.24" y1="584.68" x2="213.24" y2="646.74" stroke-width="3.3"/><line x1="210.44" y1="584.68" x2="216.04" y2="584.68" stroke-width="3.8" stroke-linecap="round"/><line x1="210.44" y1="646.74" x2="216.04" y2="646.74" stroke-width="3.8" stroke-linecap="round"/><line x1="227.33" y1="580.16" x2="227.33" y2="648.99" stroke-width="3.3"/><line x1="224.53" y1="580.16" x2="230.13" y2="580.16" stroke-width="3.8" stroke-linecap="round"/><line x1="224.53" y1="648.99" x2="230.13" y2="648.99" stroke-width="3.8" stroke-linecap="round"/><line x1="241.42" y1="582.42" x2="241.42" y2="650.12" stroke-width="3.3"/><line x1="238.62" y1="582.42" x2="244.22" y2="582.42" stroke-width="3.8" stroke-linecap="round"/><line x1="238.62" y1="650.12" x2="244.22" y2="650.12" stroke-width="3.8" stroke-linecap="round"/><line x1="255.52" y1="582.42" x2="255.52" y2="650.12" stroke-width="3.3"/><line x1="252.72" y1="582.42" x2="258.32" y2="582.42" stroke-width="3.8" stroke-linecap="round"/><line x1="252.72" y1="650.12" x2="258.32" y2="650.12" stroke-width="3.8" stroke-linecap="round"/><line x1="269.61" y1="584.11" x2="269.61" y2="651.82" stroke-width="3.3"/><line x1="266.81" y1="584.11" x2="272.41" y2="584.11" stroke-width="3.8" stroke-linecap="round"/><line x1="266.81" y1="651.82" x2="272.41" y2="651.82" stroke-width="3.8" stroke-linecap="round"/><line x1="283.7" y1="583.55" x2="283.7" y2="652.38" stroke-width="3.3"/><line x1="280.9" y1="583.55" x2="286.5" y2="583.55" stroke-width="3.8" stroke-linecap="round"/><line x1="280.9" y1="652.38" x2="286.5" y2="652.38" stroke-width="3.8" stroke-linecap="round"/><line x1="297.8" y1="582.42" x2="297.8" y2="656.89" stroke-width="3.3"/><line x1="295" y1="582.42" x2="300.6" y2="582.42" stroke-width="3.8" stroke-linecap="round"/><line x1="295" y1="656.89" x2="300.6" y2="656.89" stroke-width="3.8" stroke-linecap="round"/><line x1="311.89" y1="582.98" x2="311.89" y2="647.3" stroke-width="3.3"/><line x1="309.09" y1="582.98" x2="314.69" y2="582.98" stroke-width="3.8" stroke-linecap="round"/><line x1="309.09" y1="647.3" x2="314.69" y2="647.3" stroke-width="3.8" stroke-linecap="round"/><line x1="325.98" y1="581.29" x2="325.98" y2="651.25" stroke-width="3.3"/><line x1="323.18" y1="581.29" x2="328.78" y2="581.29" stroke-width="3.8" stroke-linecap="round"/><line x1="323.18" y1="651.25" x2="328.78" y2="651.25" stroke-width="3.8" stroke-linecap="round"/><line x1="340.07" y1="582.98" x2="340.07" y2="650.69" stroke-width="3.3"/><line x1="337.27" y1="582.98" x2="342.87" y2="582.98" stroke-width="3.8" stroke-linecap="round"/><line x1="337.27" y1="650.69" x2="342.87" y2="650.69" stroke-width="3.8" stroke-linecap="round"/><line x1="354.17" y1="598.22" x2="354.17" y2="653.51" stroke-width="3.3"/><line x1="351.37" y1="598.22" x2="356.97" y2="598.22" stroke-width="3.8" stroke-linecap="round"/><line x1="351.37" y1="653.51" x2="356.97" y2="653.51" stroke-width="3.8" stroke-linecap="round"/><line x1="368.26" y1="584.68" x2="368.26" y2="652.38" stroke-width="3.3"/><line x1="365.46" y1="584.68" x2="371.06" y2="584.68" stroke-width="3.8" stroke-linecap="round"/><line x1="365.46" y1="652.38" x2="371.06" y2="652.38" stroke-width="3.8" stroke-linecap="round"/><line x1="382.35" y1="582.98" x2="382.35" y2="650.69" stroke-width="3.3"/><line x1="379.55" y1="582.98" x2="385.15" y2="582.98" stroke-width="3.8" stroke-linecap="round"/><line x1="379.55" y1="650.69" x2="385.15" y2="650.69" stroke-width="3.8" stroke-linecap="round"/><line x1="396.45" y1="580.44" x2="396.45" y2="650.4" stroke-width="3.3"/><line x1="393.65" y1="580.44" x2="399.25" y2="580.44" stroke-width="3.8" stroke-linecap="round"/><line x1="393.65" y1="650.4" x2="399.25" y2="650.4" stroke-width="3.8" stroke-linecap="round"/><line x1="410.54" y1="603.29" x2="410.54" y2="654.07" stroke-width="3.3"/><line x1="407.74" y1="603.29" x2="413.34" y2="603.29" stroke-width="3.8" stroke-linecap="round"/><line x1="407.74" y1="654.07" x2="413.34" y2="654.07" stroke-width="3.8" stroke-linecap="round"/><line x1="424.63" y1="587.5" x2="424.63" y2="649.56" stroke-width="3.3"/><line x1="421.83" y1="587.5" x2="427.43" y2="587.5" stroke-width="3.8" stroke-linecap="round"/><line x1="421.83" y1="649.56" x2="427.43" y2="649.56" stroke-width="3.8" stroke-linecap="round"/><line x1="438.73" y1="592.01" x2="438.73" y2="647.3" stroke-width="3.3"/><line x1="435.93" y1="592.01" x2="441.53" y2="592.01" stroke-width="3.8" stroke-linecap="round"/><line x1="435.93" y1="647.3" x2="441.53" y2="647.3" stroke-width="3.8" stroke-linecap="round"/><line x1="452.82" y1="583.55" x2="452.82" y2="660.28" stroke-width="3.3"/><line x1="450.02" y1="583.55" x2="455.62" y2="583.55" stroke-width="3.8" stroke-linecap="round"/><line x1="450.02" y1="660.28" x2="455.62" y2="660.28" stroke-width="3.8" stroke-linecap="round"/><line x1="466.91" y1="585.8" x2="466.91" y2="660.28" stroke-width="3.3"/><line x1="464.11" y1="585.8" x2="469.71" y2="585.8" stroke-width="3.8" stroke-linecap="round"/><line x1="464.11" y1="660.28" x2="469.71" y2="660.28" stroke-width="3.8" stroke-linecap="round"/><line x1="481" y1="577.9" x2="481" y2="653.51" stroke-width="3.3"/><line x1="478.2" y1="577.9" x2="483.8" y2="577.9" stroke-width="3.8" stroke-linecap="round"/><line x1="478.2" y1="653.51" x2="483.8" y2="653.51" stroke-width="3.8" stroke-linecap="round"/><polyline points="100.49,609.5 114.59,609.5 128.68,624.56 142.77,634.04 156.87,630.94 170.96,627.55 185.05,623.04 199.14,619.66 213.24,615.71 227.33,614.58 241.42,616.27 255.52,616.27 269.61,617.96 283.7,617.96 297.8,619.66 311.89,615.14 325.98,616.27 340.07,616.83 354.17,625.86 368.26,618.53 382.35,616.83 396.45,615.42 410.54,628.68 424.63,618.53 438.73,619.66 452.82,621.91 466.91,623.04 481,615.71" fill="none" stroke-width="3.8" stroke-linejoin="round"/><circle cx="100.49" cy="609.5" r="2.6" stroke="none"/><circle cx="114.59" cy="609.5" r="2.6" stroke="none"/><circle cx="128.68" cy="624.56" r="2.6" stroke="none"/><circle cx="142.77" cy="634.04" r="2.6" stroke="none"/><circle cx="156.87" cy="630.94" r="2.6" stroke="none"/><circle cx="170.96" cy="627.55" r="2.6" stroke="none"/><circle cx="185.05" cy="623.04" r="2.6" stroke="none"/><circle cx="199.14" cy="619.66" r="2.6" stroke="none"/><circle cx="213.24" cy="615.71" r="2.6" stroke="none"/><circle cx="227.33" cy="614.58" r="2.6" stroke="none"/><circle cx="241.42" cy="616.27" r="2.6" stroke="none"/><circle cx="255.52" cy="616.27" r="2.6" stroke="none"/><circle cx="269.61" cy="617.96" r="2.6" stroke="none"/><circle cx="283.7" cy="617.96" r="2.6" stroke="none"/><circle cx="297.8" cy="619.66" r="2.6" stroke="none"/><circle cx="311.89" cy="615.14" r="2.6" stroke="none"/><circle cx="325.98" cy="616.27" r="2.6" stroke="none"/><circle cx="340.07" cy="616.83" r="2.6" stroke="none"/><circle cx="354.17" cy="625.86" r="2.6" stroke="none"/><circle cx="368.26" cy="618.53" r="2.6" stroke="none"/><circle cx="382.35" cy="616.83" r="2.6" stroke="none"/><circle cx="396.45" cy="615.42" r="2.6" stroke="none"/><circle cx="410.54" cy="628.68" r="2.6" stroke="none"/><circle cx="424.63" cy="618.53" r="2.6" stroke="none"/><circle cx="438.73" cy="619.66" r="2.6" stroke="none"/><circle cx="452.82" cy="621.91" r="2.6" stroke="none"/><circle cx="466.91" cy="623.04" r="2.6" stroke="none"/><circle cx="481" cy="615.71" r="2.6" stroke="none"/></g>
<g stroke="#b43ce6" fill="#b43ce6"><line x1="114.59" y1="601.04" x2="114.59" y2="634.89" stroke-width="3.3"/><line x1="111.79" y1="601.04" x2="117.39" y2="601.04" stroke-width="3.8" stroke-linecap="round"/><line x1="111.79" y1="634.89" x2="117.39" y2="634.89" stroke-width="3.8" stroke-linecap="round"/><line x1="128.68" y1="618.25" x2="128.68" y2="645.89" stroke-width="3.3"/><line x1="125.88" y1="618.25" x2="131.48" y2="618.25" stroke-width="3.8" stroke-linecap="round"/><line x1="125.88" y1="645.89" x2="131.48" y2="645.89" stroke-width="3.8" stroke-linecap="round"/><line x1="142.77" y1="610.63" x2="142.77" y2="653.51" stroke-width="3.3"/><line x1="139.97" y1="610.63" x2="145.57" y2="610.63" stroke-width="3.8" stroke-linecap="round"/><line x1="139.97" y1="653.51" x2="145.57" y2="653.51" stroke-width="3.8" stroke-linecap="round"/><line x1="156.87" y1="616.83" x2="156.87" y2="652.94" stroke-width="3.3"/><line x1="154.06" y1="616.83" x2="159.67" y2="616.83" stroke-width="3.8" stroke-linecap="round"/><line x1="154.06" y1="652.94" x2="159.67" y2="652.94" stroke-width="3.8" stroke-linecap="round"/><line x1="170.96" y1="614.01" x2="170.96" y2="647.87" stroke-width="3.3"/><line x1="168.16" y1="614.01" x2="173.76" y2="614.01" stroke-width="3.8" stroke-linecap="round"/><line x1="168.16" y1="647.87" x2="173.76" y2="647.87" stroke-width="3.8" stroke-linecap="round"/><line x1="185.05" y1="604.99" x2="185.05" y2="652.38" stroke-width="3.3"/><line x1="182.25" y1="604.99" x2="187.85" y2="604.99" stroke-width="3.8" stroke-linecap="round"/><line x1="182.25" y1="652.38" x2="187.85" y2="652.38" stroke-width="3.8" stroke-linecap="round"/><line x1="199.14" y1="604.99" x2="199.14" y2="642.22" stroke-width="3.3"/><line x1="196.34" y1="604.99" x2="201.94" y2="604.99" stroke-width="3.8" stroke-linecap="round"/><line x1="196.34" y1="642.22" x2="201.94" y2="642.22" stroke-width="3.8" stroke-linecap="round"/><line x1="213.24" y1="597.93" x2="213.24" y2="647.02" stroke-width="3.3"/><line x1="210.44" y1="597.93" x2="216.04" y2="597.93" stroke-width="3.8" stroke-linecap="round"/><line x1="210.44" y1="647.02" x2="216.04" y2="647.02" stroke-width="3.8" stroke-linecap="round"/><line x1="227.33" y1="601.04" x2="227.33" y2="643.92" stroke-width="3.3"/><line x1="224.53" y1="601.04" x2="230.13" y2="601.04" stroke-width="3.8" stroke-linecap="round"/><line x1="224.53" y1="643.92" x2="230.13" y2="643.92" stroke-width="3.8" stroke-linecap="round"/><line x1="241.42" y1="596.52" x2="241.42" y2="641.66" stroke-width="3.3"/><line x1="238.62" y1="596.52" x2="244.22" y2="596.52" stroke-width="3.8" stroke-linecap="round"/><line x1="238.62" y1="641.66" x2="244.22" y2="641.66" stroke-width="3.8" stroke-linecap="round"/><line x1="255.52" y1="602.05" x2="255.52" y2="645.61" stroke-width="3.3"/><line x1="252.72" y1="602.05" x2="258.32" y2="602.05" stroke-width="3.8" stroke-linecap="round"/><line x1="252.72" y1="645.61" x2="258.32" y2="645.61" stroke-width="3.8" stroke-linecap="round"/><line x1="269.61" y1="608.37" x2="269.61" y2="648.99" stroke-width="3.3"/><line x1="266.81" y1="608.37" x2="272.41" y2="608.37" stroke-width="3.8" stroke-linecap="round"/><line x1="266.81" y1="648.99" x2="272.41" y2="648.99" stroke-width="3.8" stroke-linecap="round"/><line x1="283.7" y1="601.04" x2="283.7" y2="646.17" stroke-width="3.3"/><line x1="280.9" y1="601.04" x2="286.5" y2="601.04" stroke-width="3.8" stroke-linecap="round"/><line x1="280.9" y1="646.17" x2="286.5" y2="646.17" stroke-width="3.8" stroke-linecap="round"/><line x1="297.8" y1="598.22" x2="297.8" y2="646.17" stroke-width="3.3"/><line x1="295" y1="598.22" x2="300.6" y2="598.22" stroke-width="3.8" stroke-linecap="round"/><line x1="295" y1="646.17" x2="300.6" y2="646.17" stroke-width="3.8" stroke-linecap="round"/><line x1="311.89" y1="594.83" x2="311.89" y2="637.71" stroke-width="3.3"/><line x1="309.09" y1="594.83" x2="314.69" y2="594.83" stroke-width="3.8" stroke-linecap="round"/><line x1="309.09" y1="637.71" x2="314.69" y2="637.71" stroke-width="3.8" stroke-linecap="round"/><line x1="325.98" y1="600.47" x2="325.98" y2="638.84" stroke-width="3.3"/><line x1="323.18" y1="600.47" x2="328.78" y2="600.47" stroke-width="3.8" stroke-linecap="round"/><line x1="323.18" y1="638.84" x2="328.78" y2="638.84" stroke-width="3.8" stroke-linecap="round"/><line x1="340.07" y1="595.96" x2="340.07" y2="648.43" stroke-width="3.3"/><line x1="337.27" y1="595.96" x2="342.87" y2="595.96" stroke-width="3.8" stroke-linecap="round"/><line x1="337.27" y1="648.43" x2="342.87" y2="648.43" stroke-width="3.8" stroke-linecap="round"/><line x1="354.17" y1="600.47" x2="354.17" y2="653.51" stroke-width="3.3"/><line x1="351.37" y1="600.47" x2="356.97" y2="600.47" stroke-width="3.8" stroke-linecap="round"/><line x1="351.37" y1="653.51" x2="356.97" y2="653.51" stroke-width="3.8" stroke-linecap="round"/><line x1="368.26" y1="592.01" x2="368.26" y2="643.92" stroke-width="3.3"/><line x1="365.46" y1="592.01" x2="371.06" y2="592.01" stroke-width="3.8" stroke-linecap="round"/><line x1="365.46" y1="643.92" x2="371.06" y2="643.92" stroke-width="3.8" stroke-linecap="round"/><line x1="382.35" y1="597.09" x2="382.35" y2="648.43" stroke-width="3.3"/><line x1="379.55" y1="597.09" x2="385.15" y2="597.09" stroke-width="3.8" stroke-linecap="round"/><line x1="379.55" y1="648.43" x2="385.15" y2="648.43" stroke-width="3.8" stroke-linecap="round"/><line x1="396.45" y1="585.07" x2="396.45" y2="641.49" stroke-width="3.3"/><line x1="393.65" y1="585.07" x2="399.25" y2="585.07" stroke-width="3.8" stroke-linecap="round"/><line x1="393.65" y1="641.49" x2="399.25" y2="641.49" stroke-width="3.8" stroke-linecap="round"/><line x1="410.54" y1="624.73" x2="410.54" y2="665.36" stroke-width="3.3"/><line x1="407.74" y1="624.73" x2="413.34" y2="624.73" stroke-width="3.8" stroke-linecap="round"/><line x1="407.74" y1="665.36" x2="413.34" y2="665.36" stroke-width="3.8" stroke-linecap="round"/><line x1="424.63" y1="607.24" x2="424.63" y2="652.38" stroke-width="3.3"/><line x1="421.83" y1="607.24" x2="427.43" y2="607.24" stroke-width="3.8" stroke-linecap="round"/><line x1="421.83" y1="652.38" x2="427.43" y2="652.38" stroke-width="3.8" stroke-linecap="round"/><line x1="438.73" y1="609.5" x2="438.73" y2="652.38" stroke-width="3.3"/><line x1="435.93" y1="609.5" x2="441.53" y2="609.5" stroke-width="3.8" stroke-linecap="round"/><line x1="435.93" y1="652.38" x2="441.53" y2="652.38" stroke-width="3.8" stroke-linecap="round"/><line x1="452.82" y1="600.47" x2="452.82" y2="656.89" stroke-width="3.3"/><line x1="450.02" y1="600.47" x2="455.62" y2="600.47" stroke-width="3.8" stroke-linecap="round"/><line x1="450.02" y1="656.89" x2="455.62" y2="656.89" stroke-width="3.8" stroke-linecap="round"/><line x1="466.91" y1="608.94" x2="466.91" y2="657.46" stroke-width="3.3"/><line x1="464.11" y1="608.94" x2="469.71" y2="608.94" stroke-width="3.8" stroke-linecap="round"/><line x1="464.11" y1="657.46" x2="469.71" y2="657.46" stroke-width="3.8" stroke-linecap="round"/><line x1="481" y1="595.11" x2="481" y2="651.53" stroke-width="3.3"/><line x1="478.2" y1="595.11" x2="483.8" y2="595.11" stroke-width="3.8" stroke-linecap="round"/><line x1="478.2" y1="651.53" x2="483.8" y2="651.53" stroke-width="3.8" stroke-linecap="round"/><polyline points="100.49,609.5 114.59,617.96 128.68,632.07 142.77,632.07 156.87,634.89 170.96,630.94 185.05,628.68 199.14,623.61 213.24,622.48 227.33,622.48 241.42,619.09 255.52,623.83 269.61,628.68 283.7,623.61 297.8,622.19 311.89,616.27 325.98,619.66 340.07,622.19 354.17,626.99 368.26,617.96 382.35,622.76 396.45,613.28 410.54,645.04 424.63,629.81 438.73,630.94 452.82,628.68 466.91,633.2 481,623.32" fill="none" stroke-width="3.8" stroke-linejoin="round"/><circle cx="100.49" cy="609.5" r="2.6" stroke="none"/><circle cx="114.59" cy="617.96" r="2.6" stroke="none"/><circle cx="128.68" cy="632.07" r="2.6" stroke="none"/><circle cx="142.77" cy="632.07" r="2.6" stroke="none"/><circle cx="156.87" cy="634.89" r="2.6" stroke="none"/><circle cx="170.96" cy="630.94" r="2.6" stroke="none"/><circle cx="185.05" cy="628.68" r="2.6" stroke="none"/><circle cx="199.14" cy="623.61" r="2.6" stroke="none"/><circle cx="213.24" cy="622.48" r="2.6" stroke="none"/><circle cx="227.33" cy="622.48" r="2.6" stroke="none"/><circle cx="241.42" cy="619.09" r="2.6" stroke="none"/><circle cx="255.52" cy="623.83" r="2.6" stroke="none"/><circle cx="269.61" cy="628.68" r="2.6" stroke="none"/><circle cx="283.7" cy="623.61" r="2.6" stroke="none"/><circle cx="297.8" cy="622.19" r="2.6" stroke="none"/><circle cx="311.89" cy="616.27" r="2.6" stroke="none"/><circle cx="325.98" cy="619.66" r="2.6" stroke="none"/><circle cx="340.07" cy="622.19" r="2.6" stroke="none"/><circle cx="354.17" cy="626.99" r="2.6" stroke="none"/><circle cx="368.26" cy="617.96" r="2.6" stroke="none"/><circle cx="382.35" cy="622.76" r="2.6" stroke="none"/><circle cx="396.45" cy="613.28" r="2.6" stroke="none"/><circle cx="410.54" cy="645.04" r="2.6" stroke="none"/><circle cx="424.63" cy="629.81" r="2.6" stroke="none"/><circle cx="438.73" cy="630.94" r="2.6" stroke="none"/><circle cx="452.82" cy="628.68" r="2.6" stroke="none"/><circle cx="466.91" cy="633.2" r="2.6" stroke="none"/><circle cx="481" cy="623.32" r="2.6" stroke="none"/></g>
<g stroke="#1ebe1e" fill="#1ebe1e"><line x1="114.59" y1="617.12" x2="114.59" y2="639.12" stroke-width="3.3"/><line x1="111.79" y1="617.12" x2="117.39" y2="617.12" stroke-width="3.8" stroke-linecap="round"/><line x1="111.79" y1="639.12" x2="117.39" y2="639.12" stroke-width="3.8" stroke-linecap="round"/><line x1="128.68" y1="613.17" x2="128.68" y2="636.3" stroke-width="3.3"/><line x1="125.88" y1="613.17" x2="131.48" y2="613.17" stroke-width="3.8" stroke-linecap="round"/><line x1="125.88" y1="636.3" x2="131.48" y2="636.3" stroke-width="3.8" stroke-linecap="round"/><line x1="142.77" y1="621.07" x2="142.77" y2="625.58" stroke-width="3.3"/><line x1="139.97" y1="621.07" x2="145.57" y2="621.07" stroke-width="3.8" stroke-linecap="round"/><line x1="139.97" y1="625.58" x2="145.57" y2="625.58" stroke-width="3.8" stroke-linecap="round"/><line x1="156.87" y1="611.19" x2="156.87" y2="621.35" stroke-width="3.3"/><line x1="154.06" y1="611.19" x2="159.67" y2="611.19" stroke-width="3.8" stroke-linecap="round"/><line x1="154.06" y1="621.35" x2="159.67" y2="621.35" stroke-width="3.8" stroke-linecap="round"/><line x1="170.96" y1="606.68" x2="170.96" y2="615.71" stroke-width="3.3"/><line x1="168.16" y1="606.68" x2="173.76" y2="606.68" stroke-width="3.8" stroke-linecap="round"/><line x1="168.16" y1="615.71" x2="173.76" y2="615.71" stroke-width="3.8" stroke-linecap="round"/><line x1="185.05" y1="606.68" x2="185.05" y2="617.96" stroke-width="3.3"/><line x1="182.25" y1="606.68" x2="187.85" y2="606.68" stroke-width="3.8" stroke-linecap="round"/><line x1="182.25" y1="617.96" x2="187.85" y2="617.96" stroke-width="3.8" stroke-linecap="round"/><line x1="199.14" y1="614.58" x2="199.14" y2="625.86" stroke-width="3.3"/><line x1="196.34" y1="614.58" x2="201.94" y2="614.58" stroke-width="3.8" stroke-linecap="round"/><line x1="196.34" y1="625.86" x2="201.94" y2="625.86" stroke-width="3.8" stroke-linecap="round"/><line x1="213.24" y1="592.01" x2="213.24" y2="608.94" stroke-width="3.3"/><line x1="210.44" y1="592.01" x2="216.04" y2="592.01" stroke-width="3.8" stroke-linecap="round"/><line x1="210.44" y1="608.94" x2="216.04" y2="608.94" stroke-width="3.8" stroke-linecap="round"/><line x1="227.33" y1="570.57" x2="227.33" y2="619.09" stroke-width="3.3"/><line x1="224.53" y1="570.57" x2="230.13" y2="570.57" stroke-width="3.8" stroke-linecap="round"/><line x1="224.53" y1="619.09" x2="230.13" y2="619.09" stroke-width="3.8" stroke-linecap="round"/><line x1="241.42" y1="581.85" x2="241.42" y2="604.42" stroke-width="3.3"/><line x1="238.62" y1="581.85" x2="244.22" y2="581.85" stroke-width="3.8" stroke-linecap="round"/><line x1="238.62" y1="604.42" x2="244.22" y2="604.42" stroke-width="3.8" stroke-linecap="round"/><line x1="255.52" y1="579.03" x2="255.52" y2="611.76" stroke-width="3.3"/><line x1="252.72" y1="579.03" x2="258.32" y2="579.03" stroke-width="3.8" stroke-linecap="round"/><line x1="252.72" y1="611.76" x2="258.32" y2="611.76" stroke-width="3.8" stroke-linecap="round"/><line x1="269.61" y1="579.6" x2="269.61" y2="607.81" stroke-width="3.3"/><line x1="266.81" y1="579.6" x2="272.41" y2="579.6" stroke-width="3.8" stroke-linecap="round"/><line x1="266.81" y1="607.81" x2="272.41" y2="607.81" stroke-width="3.8" stroke-linecap="round"/><line x1="283.7" y1="563.8" x2="283.7" y2="621.35" stroke-width="3.3"/><line x1="280.9" y1="563.8" x2="286.5" y2="563.8" stroke-width="3.8" stroke-linecap="round"/><line x1="280.9" y1="621.35" x2="286.5" y2="621.35" stroke-width="3.8" stroke-linecap="round"/><line x1="297.8" y1="573.39" x2="297.8" y2="609.5" stroke-width="3.3"/><line x1="295" y1="573.39" x2="300.6" y2="573.39" stroke-width="3.8" stroke-linecap="round"/><line x1="295" y1="609.5" x2="300.6" y2="609.5" stroke-width="3.8" stroke-linecap="round"/><line x1="311.89" y1="568.88" x2="311.89" y2="618.53" stroke-width="3.3"/><line x1="309.09" y1="568.88" x2="314.69" y2="568.88" stroke-width="3.8" stroke-linecap="round"/><line x1="309.09" y1="618.53" x2="314.69" y2="618.53" stroke-width="3.8" stroke-linecap="round"/><line x1="325.98" y1="571.13" x2="325.98" y2="615.14" stroke-width="3.3"/><line x1="323.18" y1="571.13" x2="328.78" y2="571.13" stroke-width="3.8" stroke-linecap="round"/><line x1="323.18" y1="615.14" x2="328.78" y2="615.14" stroke-width="3.8" stroke-linecap="round"/><line x1="340.07" y1="571.13" x2="340.07" y2="617.4" stroke-width="3.3"/><line x1="337.27" y1="571.13" x2="342.87" y2="571.13" stroke-width="3.8" stroke-linecap="round"/><line x1="337.27" y1="617.4" x2="342.87" y2="617.4" stroke-width="3.8" stroke-linecap="round"/><line x1="354.17" y1="568.31" x2="354.17" y2="602.17" stroke-width="3.3"/><line x1="351.37" y1="568.31" x2="356.97" y2="568.31" stroke-width="3.8" stroke-linecap="round"/><line x1="351.37" y1="602.17" x2="356.97" y2="602.17" stroke-width="3.8" stroke-linecap="round"/><line x1="368.26" y1="553.64" x2="368.26" y2="593.14" stroke-width="3.3"/><line x1="365.46" y1="553.64" x2="371.06" y2="553.64" stroke-width="3.8" stroke-linecap="round"/><line x1="365.46" y1="593.14" x2="371.06" y2="593.14" stroke-width="3.8" stroke-linecap="round"/><line x1="382.35" y1="557.03" x2="382.35" y2="605.55" stroke-width="3.3"/><line x1="379.55" y1="557.03" x2="385.15" y2="557.03" stroke-width="3.8" stroke-linecap="round"/><line x1="379.55" y1="605.55" x2="385.15" y2="605.55" stroke-width="3.8" stroke-linecap="round"/><line x1="396.45" y1="557.59" x2="396.45" y2="608.37" stroke-width="3.3"/><line x1="393.65" y1="557.59" x2="399.25" y2="557.59" stroke-width="3.8" stroke-linecap="round"/><line x1="393.65" y1="608.37" x2="399.25" y2="608.37" stroke-width="3.8" stroke-linecap="round"/><line x1="410.54" y1="573.11" x2="410.54" y2="612.6" stroke-width="3.3"/><line x1="407.74" y1="573.11" x2="413.34" y2="573.11" stroke-width="3.8" stroke-linecap="round"/><line x1="407.74" y1="612.6" x2="413.34" y2="612.6" stroke-width="3.8" stroke-linecap="round"/><line x1="424.63" y1="572.83" x2="424.63" y2="615.71" stroke-width="3.3"/><line x1="421.83" y1="572.83" x2="427.43" y2="572.83" stroke-width="3.8" stroke-linecap="round"/><line x1="421.83" y1="615.71" x2="427.43" y2="615.71" stroke-width="3.8" stroke-linecap="round"/><line x1="438.73" y1="569.44" x2="438.73" y2="608.94" stroke-width="3.3"/><line x1="435.93" y1="569.44" x2="441.53" y2="569.44" stroke-width="3.8" stroke-linecap="round"/><line x1="435.93" y1="608.94" x2="441.53" y2="608.94" stroke-width="3.8" stroke-linecap="round"/><line x1="452.82" y1="562.11" x2="452.82" y2="608.37" stroke-width="3.3"/><line x1="450.02" y1="562.11" x2="455.62" y2="562.11" stroke-width="3.8" stroke-linecap="round"/><line x1="450.02" y1="608.37" x2="455.62" y2="608.37" stroke-width="3.8" stroke-linecap="round"/><line x1="466.91" y1="571.7" x2="466.91" y2="611.19" stroke-width="3.3"/><line x1="464.11" y1="571.7" x2="469.71" y2="571.7" stroke-width="3.8" stroke-linecap="round"/><line x1="464.11" y1="611.19" x2="469.71" y2="611.19" stroke-width="3.8" stroke-linecap="round"/><line x1="481" y1="567.18" x2="481" y2="613.45" stroke-width="3.3"/><line x1="478.2" y1="567.18" x2="483.8" y2="567.18" stroke-width="3.8" stroke-linecap="round"/><line x1="478.2" y1="613.45" x2="483.8" y2="613.45" stroke-width="3.8" stroke-linecap="round"/><line x1="495.1" y1="594.27" x2="495.1" y2="634.89" stroke-width="3.3"/><line x1="492.3" y1="594.27" x2="497.9" y2="594.27" stroke-width="3.8" stroke-linecap="round"/><line x1="492.3" y1="634.89" x2="497.9" y2="634.89" stroke-width="3.8" stroke-linecap="round"/><polyline points="100.49,609.5 114.59,628.12 128.68,624.73 142.77,623.32 156.87,616.27 170.96,611.19 185.05,612.32 199.14,620.22 213.24,600.47 227.33,594.83 241.42,593.14 255.52,595.39 269.61,593.7 283.7,592.57 297.8,591.45 311.89,593.7 325.98,593.14 340.07,594.27 354.17,585.24 368.26,573.39 382.35,581.29 396.45,582.98 410.54,592.86 424.63,594.27 438.73,589.19 452.82,585.24 466.91,591.45 481,590.32 495.1,614.58" fill="none" stroke-width="3.8" stroke-linejoin="round"/><circle cx="100.49" cy="609.5" r="2.6" stroke="none"/><circle cx="114.59" cy="628.12" r="2.6" stroke="none"/><circle cx="128.68" cy="624.73" r="2.6" stroke="none"/><circle cx="142.77" cy="623.32" r="2.6" stroke="none"/><circle cx="156.87" cy="616.27" r="2.6" stroke="none"/><circle cx="170.96" cy="611.19" r="2.6" stroke="none"/><circle cx="185.05" cy="612.32" r="2.6" stroke="none"/><circle cx="199.14" cy="620.22" r="2.6" stroke="none"/><circle cx="213.24" cy="600.47" r="2.6" stroke="none"/><circle cx="227.33" cy="594.83" r="2.6" stroke="none"/><circle cx="241.42" cy="593.14" r="2.6" stroke="none"/><circle cx="255.52" cy="595.39" r="2.6" stroke="none"/><circle cx="269.61" cy="593.7" r="2.6" stroke="none"/><circle cx="283.7" cy="592.57" r="2.6" stroke="none"/><circle cx="297.8" cy="591.45" r="2.6" stroke="none"/><circle cx="311.89" cy="593.7" r="2.6" stroke="none"/><circle cx="325.98" cy="593.14" r="2.6" stroke="none"/><circle cx="340.07" cy="594.27" r="2.6" stroke="none"/><circle cx="354.17" cy="585.24" r="2.6" stroke="none"/><circle cx="368.26" cy="573.39" r="2.6" stroke="none"/><circle cx="382.35" cy="581.29" r="2.6" stroke="none"/><circle cx="396.45" cy="582.98" r="2.6" stroke="none"/><circle cx="410.54" cy="592.86" r="2.6" stroke="none"/><circle cx="424.63" cy="594.27" r="2.6" stroke="none"/><circle cx="438.73" cy="589.19" r="2.6" stroke="none"/><circle cx="452.82" cy="585.24" r="2.6" stroke="none"/><circle cx="466.91" cy="591.45" r="2.6" stroke="none"/><circle cx="481" cy="590.32" r="2.6" stroke="none"/><circle cx="495.1" cy="614.58" r="2.6" stroke="none"/></g>
<g stroke="#f0281a" fill="#f0281a"><line x1="114.59" y1="614.01" x2="114.59" y2="635.45" stroke-width="3.3"/><line x1="111.79" y1="614.01" x2="117.39" y2="614.01" stroke-width="3.8" stroke-linecap="round"/><line x1="111.79" y1="635.45" x2="117.39" y2="635.45" stroke-width="3.8" stroke-linecap="round"/><line x1="128.68" y1="616.27" x2="128.68" y2="625.3" stroke-width="3.3"/><line x1="125.88" y1="616.27" x2="131.48" y2="616.27" stroke-width="3.8" stroke-linecap="round"/><line x1="125.88" y1="625.3" x2="131.48" y2="625.3" stroke-width="3.8" stroke-linecap="round"/><line x1="142.77" y1="608.09" x2="142.77" y2="619.37" stroke-width="3.3"/><line x1="139.97" y1="608.09" x2="145.57" y2="608.09" stroke-width="3.8" stroke-linecap="round"/><line x1="139.97" y1="619.37" x2="145.57" y2="619.37" stroke-width="3.8" stroke-linecap="round"/><line x1="156.87" y1="601.32" x2="156.87" y2="627.27" stroke-width="3.3"/><line x1="154.06" y1="601.32" x2="159.67" y2="601.32" stroke-width="3.8" stroke-linecap="round"/><line x1="154.06" y1="627.27" x2="159.67" y2="627.27" stroke-width="3.8" stroke-linecap="round"/><line x1="170.96" y1="601.04" x2="170.96" y2="612.32" stroke-width="3.3"/><line x1="168.16" y1="601.04" x2="173.76" y2="601.04" stroke-width="3.8" stroke-linecap="round"/><line x1="168.16" y1="612.32" x2="173.76" y2="612.32" stroke-width="3.8" stroke-linecap="round"/><line x1="185.05" y1="589.75" x2="185.05" y2="623.61" stroke-width="3.3"/><line x1="182.25" y1="589.75" x2="187.85" y2="589.75" stroke-width="3.8" stroke-linecap="round"/><line x1="182.25" y1="623.61" x2="187.85" y2="623.61" stroke-width="3.8" stroke-linecap="round"/><line x1="199.14" y1="597.65" x2="199.14" y2="612.32" stroke-width="3.3"/><line x1="196.34" y1="597.65" x2="201.94" y2="597.65" stroke-width="3.8" stroke-linecap="round"/><line x1="196.34" y1="612.32" x2="201.94" y2="612.32" stroke-width="3.8" stroke-linecap="round"/><line x1="213.24" y1="594.83" x2="213.24" y2="615.14" stroke-width="3.3"/><line x1="210.44" y1="594.83" x2="216.04" y2="594.83" stroke-width="3.8" stroke-linecap="round"/><line x1="210.44" y1="615.14" x2="216.04" y2="615.14" stroke-width="3.8" stroke-linecap="round"/><line x1="227.33" y1="585.8" x2="227.33" y2="620.78" stroke-width="3.3"/><line x1="224.53" y1="585.8" x2="230.13" y2="585.8" stroke-width="3.8" stroke-linecap="round"/><line x1="224.53" y1="620.78" x2="230.13" y2="620.78" stroke-width="3.8" stroke-linecap="round"/><line x1="241.42" y1="593.87" x2="241.42" y2="614.63" stroke-width="3.3"/><line x1="238.62" y1="593.87" x2="244.22" y2="593.87" stroke-width="3.8" stroke-linecap="round"/><line x1="238.62" y1="614.63" x2="244.22" y2="614.63" stroke-width="3.8" stroke-linecap="round"/><line x1="255.52" y1="600.19" x2="255.52" y2="617.68" stroke-width="3.3"/><line x1="252.72" y1="600.19" x2="258.32" y2="600.19" stroke-width="3.8" stroke-linecap="round"/><line x1="252.72" y1="617.68" x2="258.32" y2="617.68" stroke-width="3.8" stroke-linecap="round"/><line x1="269.61" y1="589.19" x2="269.61" y2="611.76" stroke-width="3.3"/><line x1="266.81" y1="589.19" x2="272.41" y2="589.19" stroke-width="3.8" stroke-linecap="round"/><line x1="266.81" y1="611.76" x2="272.41" y2="611.76" stroke-width="3.8" stroke-linecap="round"/><line x1="283.7" y1="586.37" x2="283.7" y2="610.06" stroke-width="3.3"/><line x1="280.9" y1="586.37" x2="286.5" y2="586.37" stroke-width="3.8" stroke-linecap="round"/><line x1="280.9" y1="610.06" x2="286.5" y2="610.06" stroke-width="3.8" stroke-linecap="round"/><line x1="297.8" y1="572.26" x2="297.8" y2="610.63" stroke-width="3.3"/><line x1="295" y1="572.26" x2="300.6" y2="572.26" stroke-width="3.8" stroke-linecap="round"/><line x1="295" y1="610.63" x2="300.6" y2="610.63" stroke-width="3.8" stroke-linecap="round"/><line x1="311.89" y1="581.29" x2="311.89" y2="614.01" stroke-width="3.3"/><line x1="309.09" y1="581.29" x2="314.69" y2="581.29" stroke-width="3.8" stroke-linecap="round"/><line x1="309.09" y1="614.01" x2="314.69" y2="614.01" stroke-width="3.8" stroke-linecap="round"/><line x1="325.98" y1="571.7" x2="325.98" y2="607.81" stroke-width="3.3"/><line x1="323.18" y1="571.7" x2="328.78" y2="571.7" stroke-width="3.8" stroke-linecap="round"/><line x1="323.18" y1="607.81" x2="328.78" y2="607.81" stroke-width="3.8" stroke-linecap="round"/><line x1="340.07" y1="581.29" x2="340.07" y2="608.94" stroke-width="3.3"/><line x1="337.27" y1="581.29" x2="342.87" y2="581.29" stroke-width="3.8" stroke-linecap="round"/><line x1="337.27" y1="608.94" x2="342.87" y2="608.94" stroke-width="3.8" stroke-linecap="round"/><line x1="354.17" y1="567.75" x2="354.17" y2="601.6" stroke-width="3.3"/><line x1="351.37" y1="567.75" x2="356.97" y2="567.75" stroke-width="3.8" stroke-linecap="round"/><line x1="351.37" y1="601.6" x2="356.97" y2="601.6" stroke-width="3.8" stroke-linecap="round"/><line x1="368.26" y1="560.98" x2="368.26" y2="598.22" stroke-width="3.3"/><line x1="365.46" y1="560.98" x2="371.06" y2="560.98" stroke-width="3.8" stroke-linecap="round"/><line x1="365.46" y1="598.22" x2="371.06" y2="598.22" stroke-width="3.8" stroke-linecap="round"/><line x1="382.35" y1="564.36" x2="382.35" y2="589.75" stroke-width="3.3"/><line x1="379.55" y1="564.36" x2="385.15" y2="564.36" stroke-width="3.8" stroke-linecap="round"/><line x1="379.55" y1="589.75" x2="385.15" y2="589.75" stroke-width="3.8" stroke-linecap="round"/><line x1="396.45" y1="551.95" x2="396.45" y2="588.06" stroke-width="3.3"/><line x1="393.65" y1="551.95" x2="399.25" y2="551.95" stroke-width="3.8" stroke-linecap="round"/><line x1="393.65" y1="588.06" x2="399.25" y2="588.06" stroke-width="3.8" stroke-linecap="round"/><line x1="410.54" y1="571.7" x2="410.54" y2="610.63" stroke-width="3.3"/><line x1="407.74" y1="571.7" x2="413.34" y2="571.7" stroke-width="3.8" stroke-linecap="round"/><line x1="407.74" y1="610.63" x2="413.34" y2="610.63" stroke-width="3.8" stroke-linecap="round"/><line x1="424.63" y1="567.75" x2="424.63" y2="598.22" stroke-width="3.3"/><line x1="421.83" y1="567.75" x2="427.43" y2="567.75" stroke-width="3.8" stroke-linecap="round"/><line x1="421.83" y1="598.22" x2="427.43" y2="598.22" stroke-width="3.8" stroke-linecap="round"/><line x1="438.73" y1="570.01" x2="438.73" y2="597.09" stroke-width="3.3"/><line x1="435.93" y1="570.01" x2="441.53" y2="570.01" stroke-width="3.8" stroke-linecap="round"/><line x1="435.93" y1="597.09" x2="441.53" y2="597.09" stroke-width="3.8" stroke-linecap="round"/><line x1="452.82" y1="566.34" x2="452.82" y2="596.81" stroke-width="3.3"/><line x1="450.02" y1="566.34" x2="455.62" y2="566.34" stroke-width="3.8" stroke-linecap="round"/><line x1="450.02" y1="596.81" x2="455.62" y2="596.81" stroke-width="3.8" stroke-linecap="round"/><line x1="466.91" y1="564.08" x2="466.91" y2="599.63" stroke-width="3.3"/><line x1="464.11" y1="564.08" x2="469.71" y2="564.08" stroke-width="3.8" stroke-linecap="round"/><line x1="464.11" y1="599.63" x2="469.71" y2="599.63" stroke-width="3.8" stroke-linecap="round"/><line x1="481" y1="572.83" x2="481" y2="595.39" stroke-width="3.3"/><line x1="478.2" y1="572.83" x2="483.8" y2="572.83" stroke-width="3.8" stroke-linecap="round"/><line x1="478.2" y1="595.39" x2="483.8" y2="595.39" stroke-width="3.8" stroke-linecap="round"/><line x1="495.1" y1="595.11" x2="495.1" y2="626.14" stroke-width="3.3"/><line x1="492.3" y1="595.11" x2="497.9" y2="595.11" stroke-width="3.8" stroke-linecap="round"/><line x1="492.3" y1="626.14" x2="497.9" y2="626.14" stroke-width="3.8" stroke-linecap="round"/><polyline points="100.49,609.5 114.59,624.73 128.68,620.78 142.77,613.73 156.87,614.3 170.96,606.68 185.05,606.68 199.14,604.99 213.24,604.99 227.33,603.29 241.42,604.25 255.52,608.94 269.61,600.47 283.7,598.22 297.8,591.45 311.89,597.65 325.98,589.75 340.07,595.11 354.17,584.68 368.26,579.6 382.35,577.06 396.45,570.01 410.54,591.16 424.63,582.98 438.73,583.55 452.82,581.57 466.91,581.85 481,584.11 495.1,610.63" fill="none" stroke-width="3.8" stroke-linejoin="round"/><circle cx="100.49" cy="609.5" r="2.8" stroke="none"/><circle cx="114.59" cy="624.73" r="2.8" stroke="none"/><circle cx="128.68" cy="620.78" r="2.8" stroke="none"/><circle cx="142.77" cy="613.73" r="2.8" stroke="none"/><circle cx="156.87" cy="614.3" r="2.8" stroke="none"/><circle cx="170.96" cy="606.68" r="2.8" stroke="none"/><circle cx="185.05" cy="606.68" r="2.8" stroke="none"/><circle cx="199.14" cy="604.99" r="2.8" stroke="none"/><circle cx="213.24" cy="604.99" r="2.8" stroke="none"/><circle cx="227.33" cy="603.29" r="2.8" stroke="none"/><circle cx="241.42" cy="604.25" r="2.8" stroke="none"/><circle cx="255.52" cy="608.94" r="2.8" stroke="none"/><circle cx="269.61" cy="600.47" r="2.8" stroke="none"/><circle cx="283.7" cy="598.22" r="2.8" stroke="none"/><circle cx="297.8" cy="591.45" r="2.8" stroke="none"/><circle cx="311.89" cy="597.65" r="2.8" stroke="none"/><circle cx="325.98" cy="589.75" r="2.8" stroke="none"/><circle cx="340.07" cy="595.11" r="2.8" stroke="none"/><circle cx="354.17" cy="584.68" r="2.8" stroke="none"/><circle cx="368.26" cy="579.6" r="2.8" stroke="none"/><circle cx="382.35" cy="577.06" r="2.8" stroke="none"/><circle cx="396.45" cy="570.01" r="2.8" stroke="none"/><circle cx="410.54" cy="591.16" r="2.8" stroke="none"/><circle cx="424.63" cy="582.98" r="2.8" stroke="none"/><circle cx="438.73" cy="583.55" r="2.8" stroke="none"/><circle cx="452.82" cy="581.57" r="2.8" stroke="none"/><circle cx="466.91" cy="581.85" r="2.8" stroke="none"/><circle cx="481" cy="584.11" r="2.8" stroke="none"/><circle cx="495.1" cy="610.63" r="2.8" stroke="none"/></g>
<g stroke="#0f23dc" fill="#0f23dc"><line x1="114.59" y1="608.65" x2="114.59" y2="627.27" stroke-width="3.3"/><line x1="111.79" y1="608.65" x2="117.39" y2="608.65" stroke-width="3.8" stroke-linecap="round"/><line x1="111.79" y1="627.27" x2="117.39" y2="627.27" stroke-width="3.8" stroke-linecap="round"/><line x1="128.68" y1="594.83" x2="128.68" y2="614.58" stroke-width="3.3"/><line x1="125.88" y1="594.83" x2="131.48" y2="594.83" stroke-width="3.8" stroke-linecap="round"/><line x1="125.88" y1="614.58" x2="131.48" y2="614.58" stroke-width="3.8" stroke-linecap="round"/><line x1="142.77" y1="602.17" x2="142.77" y2="610.63" stroke-width="3.3"/><line x1="139.97" y1="602.17" x2="145.57" y2="602.17" stroke-width="3.8" stroke-linecap="round"/><line x1="139.97" y1="610.63" x2="145.57" y2="610.63" stroke-width="3.8" stroke-linecap="round"/><line x1="156.87" y1="593.59" x2="156.87" y2="609.16" stroke-width="3.3"/><line x1="154.06" y1="593.59" x2="159.67" y2="593.59" stroke-width="3.8" stroke-linecap="round"/><line x1="154.06" y1="609.16" x2="159.67" y2="609.16" stroke-width="3.8" stroke-linecap="round"/><line x1="170.96" y1="583.77" x2="170.96" y2="596.86" stroke-width="3.3"/><line x1="168.16" y1="583.77" x2="173.76" y2="583.77" stroke-width="3.8" stroke-linecap="round"/><line x1="168.16" y1="596.86" x2="173.76" y2="596.86" stroke-width="3.8" stroke-linecap="round"/><line x1="185.05" y1="575.65" x2="185.05" y2="592.57" stroke-width="3.3"/><line x1="182.25" y1="575.65" x2="187.85" y2="575.65" stroke-width="3.8" stroke-linecap="round"/><line x1="182.25" y1="592.57" x2="187.85" y2="592.57" stroke-width="3.8" stroke-linecap="round"/><line x1="199.14" y1="572.21" x2="199.14" y2="600.98" stroke-width="3.3"/><line x1="196.34" y1="572.21" x2="201.94" y2="572.21" stroke-width="3.8" stroke-linecap="round"/><line x1="196.34" y1="600.98" x2="201.94" y2="600.98" stroke-width="3.8" stroke-linecap="round"/><line x1="213.24" y1="570.57" x2="213.24" y2="596.52" stroke-width="3.3"/><line x1="210.44" y1="570.57" x2="216.04" y2="570.57" stroke-width="3.8" stroke-linecap="round"/><line x1="210.44" y1="596.52" x2="216.04" y2="596.52" stroke-width="3.8" stroke-linecap="round"/><line x1="227.33" y1="561.54" x2="227.33" y2="594.61" stroke-width="3.3"/><line x1="224.53" y1="561.54" x2="230.13" y2="561.54" stroke-width="3.8" stroke-linecap="round"/><line x1="224.53" y1="594.61" x2="230.13" y2="594.61" stroke-width="3.8" stroke-linecap="round"/><line x1="241.42" y1="554.77" x2="241.42" y2="589.75" stroke-width="3.3"/><line x1="238.62" y1="554.77" x2="244.22" y2="554.77" stroke-width="3.8" stroke-linecap="round"/><line x1="238.62" y1="589.75" x2="244.22" y2="589.75" stroke-width="3.8" stroke-linecap="round"/><line x1="255.52" y1="550.26" x2="255.52" y2="582.98" stroke-width="3.3"/><line x1="252.72" y1="550.26" x2="258.32" y2="550.26" stroke-width="3.8" stroke-linecap="round"/><line x1="252.72" y1="582.98" x2="258.32" y2="582.98" stroke-width="3.8" stroke-linecap="round"/><line x1="269.61" y1="540.67" x2="269.61" y2="586.93" stroke-width="3.3"/><line x1="266.81" y1="540.67" x2="272.41" y2="540.67" stroke-width="3.8" stroke-linecap="round"/><line x1="266.81" y1="586.93" x2="272.41" y2="586.93" stroke-width="3.8" stroke-linecap="round"/><line x1="283.7" y1="538.69" x2="283.7" y2="578.75" stroke-width="3.3"/><line x1="280.9" y1="538.69" x2="286.5" y2="538.69" stroke-width="3.8" stroke-linecap="round"/><line x1="280.9" y1="578.75" x2="286.5" y2="578.75" stroke-width="3.8" stroke-linecap="round"/><line x1="297.8" y1="544.62" x2="297.8" y2="567.75" stroke-width="3.3"/><line x1="295" y1="544.62" x2="300.6" y2="544.62" stroke-width="3.8" stroke-linecap="round"/><line x1="295" y1="567.75" x2="300.6" y2="567.75" stroke-width="3.8" stroke-linecap="round"/><line x1="311.89" y1="524.59" x2="311.89" y2="568.03" stroke-width="3.3"/><line x1="309.09" y1="524.59" x2="314.69" y2="524.59" stroke-width="3.8" stroke-linecap="round"/><line x1="309.09" y1="568.03" x2="314.69" y2="568.03" stroke-width="3.8" stroke-linecap="round"/><line x1="325.98" y1="528.26" x2="325.98" y2="562.11" stroke-width="3.3"/><line x1="323.18" y1="528.26" x2="328.78" y2="528.26" stroke-width="3.8" stroke-linecap="round"/><line x1="323.18" y1="562.11" x2="328.78" y2="562.11" stroke-width="3.8" stroke-linecap="round"/><line x1="340.07" y1="527.13" x2="340.07" y2="567.75" stroke-width="3.3"/><line x1="337.27" y1="527.13" x2="342.87" y2="527.13" stroke-width="3.8" stroke-linecap="round"/><line x1="337.27" y1="567.75" x2="342.87" y2="567.75" stroke-width="3.8" stroke-linecap="round"/><line x1="354.17" y1="517.54" x2="354.17" y2="565.49" stroke-width="3.3"/><line x1="351.37" y1="517.54" x2="356.97" y2="517.54" stroke-width="3.8" stroke-linecap="round"/><line x1="351.37" y1="565.49" x2="356.97" y2="565.49" stroke-width="3.8" stroke-linecap="round"/><line x1="368.26" y1="519.79" x2="368.26" y2="558.16" stroke-width="3.3"/><line x1="365.46" y1="519.79" x2="371.06" y2="519.79" stroke-width="3.8" stroke-linecap="round"/><line x1="365.46" y1="558.16" x2="371.06" y2="558.16" stroke-width="3.8" stroke-linecap="round"/><line x1="382.35" y1="506.25" x2="382.35" y2="558.16" stroke-width="3.3"/><line x1="379.55" y1="506.25" x2="385.15" y2="506.25" stroke-width="3.8" stroke-linecap="round"/><line x1="379.55" y1="558.16" x2="385.15" y2="558.16" stroke-width="3.8" stroke-linecap="round"/><line x1="396.45" y1="513.59" x2="396.45" y2="559.29" stroke-width="3.3"/><line x1="393.65" y1="513.59" x2="399.25" y2="513.59" stroke-width="3.8" stroke-linecap="round"/><line x1="393.65" y1="559.29" x2="399.25" y2="559.29" stroke-width="3.8" stroke-linecap="round"/><line x1="410.54" y1="515.84" x2="410.54" y2="556.47" stroke-width="3.3"/><line x1="407.74" y1="515.84" x2="413.34" y2="515.84" stroke-width="3.8" stroke-linecap="round"/><line x1="407.74" y1="556.47" x2="413.34" y2="556.47" stroke-width="3.8" stroke-linecap="round"/><line x1="424.63" y1="502.87" x2="424.63" y2="552.52" stroke-width="3.3"/><line x1="421.83" y1="502.87" x2="427.43" y2="502.87" stroke-width="3.8" stroke-linecap="round"/><line x1="421.83" y1="552.52" x2="427.43" y2="552.52" stroke-width="3.8" stroke-linecap="round"/><line x1="438.73" y1="510.2" x2="438.73" y2="557.59" stroke-width="3.3"/><line x1="435.93" y1="510.2" x2="441.53" y2="510.2" stroke-width="3.8" stroke-linecap="round"/><line x1="435.93" y1="557.59" x2="441.53" y2="557.59" stroke-width="3.8" stroke-linecap="round"/><line x1="452.82" y1="505.69" x2="452.82" y2="557.59" stroke-width="3.3"/><line x1="450.02" y1="505.69" x2="455.62" y2="505.69" stroke-width="3.8" stroke-linecap="round"/><line x1="450.02" y1="557.59" x2="455.62" y2="557.59" stroke-width="3.8" stroke-linecap="round"/><line x1="466.91" y1="498.07" x2="466.91" y2="553.93" stroke-width="3.3"/><line x1="464.11" y1="498.07" x2="469.71" y2="498.07" stroke-width="3.8" stroke-linecap="round"/><line x1="464.11" y1="553.93" x2="469.71" y2="553.93" stroke-width="3.8" stroke-linecap="round"/><line x1="481" y1="497.22" x2="481" y2="546.87" stroke-width="3.3"/><line x1="478.2" y1="497.22" x2="483.8" y2="497.22" stroke-width="3.8" stroke-linecap="round"/><line x1="478.2" y1="546.87" x2="483.8" y2="546.87" stroke-width="3.8" stroke-linecap="round"/><line x1="495.1" y1="530.51" x2="495.1" y2="581.29" stroke-width="3.3"/><line x1="492.3" y1="530.51" x2="497.9" y2="530.51" stroke-width="3.8" stroke-linecap="round"/><line x1="492.3" y1="581.29" x2="497.9" y2="581.29" stroke-width="3.8" stroke-linecap="round"/><polyline points="100.49,609.5 114.59,617.96 128.68,604.7 142.77,606.4 156.87,601.38 170.96,590.32 185.05,584.11 199.14,586.59 213.24,583.55 227.33,578.07 241.42,572.26 255.52,566.62 269.61,563.8 283.7,558.72 297.8,556.18 311.89,546.31 325.98,545.18 340.07,547.44 354.17,541.51 368.26,538.98 382.35,532.2 396.45,536.44 410.54,536.15 424.63,527.69 438.73,533.9 452.82,531.64 466.91,526 481,522.05 495.1,555.9" fill="none" stroke-width="3.8" stroke-linejoin="round"/><circle cx="100.49" cy="609.5" r="2.6" stroke="none"/><circle cx="114.59" cy="617.96" r="2.6" stroke="none"/><circle cx="128.68" cy="604.7" r="2.6" stroke="none"/><circle cx="142.77" cy="606.4" r="2.6" stroke="none"/><circle cx="156.87" cy="601.38" r="2.6" stroke="none"/><circle cx="170.96" cy="590.32" r="2.6" stroke="none"/><circle cx="185.05" cy="584.11" r="2.6" stroke="none"/><circle cx="199.14" cy="586.59" r="2.6" stroke="none"/><circle cx="213.24" cy="583.55" r="2.6" stroke="none"/><circle cx="227.33" cy="578.07" r="2.6" stroke="none"/><circle cx="241.42" cy="572.26" r="2.6" stroke="none"/><circle cx="255.52" cy="566.62" r="2.6" stroke="none"/><circle cx="269.61" cy="563.8" r="2.6" stroke="none"/><circle cx="283.7" cy="558.72" r="2.6" stroke="none"/><circle cx="297.8" cy="556.18" r="2.6" stroke="none"/><circle cx="311.89" cy="546.31" r="2.6" stroke="none"/><circle cx="325.98" cy="545.18" r="2.6" stroke="none"/><circle cx="340.07" cy="547.44" r="2.6" stroke="none"/><circle cx="354.17" cy="541.51" r="2.6" stroke="none"/><circle cx="368.26" cy="538.98" r="2.6" stroke="none"/><circle cx="382.35" cy="532.2" r="2.6" stroke="none"/><circle cx="396.45" cy="536.44" r="2.6" stroke="none"/><circle cx="410.54" cy="536.15" r="2.6" stroke="none"/><circle cx="424.63" cy="527.69" r="2.6" stroke="none"/><circle cx="438.73" cy="533.9" r="2.6" stroke="none"/><circle cx="452.82" cy="531.64" r="2.6" stroke="none"/><circle cx="466.91" cy="526" r="2.6" stroke="none"/><circle cx="481" cy="522.05" r="2.6" stroke="none"/><circle cx="495.1" cy="555.9" r="2.6" stroke="none"/></g>
<g stroke="#000" stroke-width="3.4" fill="none">
<path d="M86.4 438.7 V722.5 H510.89 V722.5" stroke-linejoin="miter"/>
<line x1="79.8" y1="440.24" x2="86.4" y2="440.24"/>
<line x1="79.8" y1="496.66" x2="86.4" y2="496.66"/>
<line x1="79.8" y1="553.08" x2="86.4" y2="553.08"/>
<line x1="79.8" y1="609.5" x2="86.4" y2="609.5"/>
<line x1="79.8" y1="665.92" x2="86.4" y2="665.92"/>
<line x1="79.8" y1="722.34" x2="86.4" y2="722.34"/>
<line x1="86.4" y1="722.5" x2="86.4" y2="728.8"/>
<line x1="156.87" y1="722.5" x2="156.87" y2="728.8"/>
<line x1="227.33" y1="722.5" x2="227.33" y2="728.8"/>
<line x1="297.8" y1="722.5" x2="297.8" y2="728.8"/>
<line x1="368.26" y1="722.5" x2="368.26" y2="728.8"/>
<line x1="438.73" y1="722.5" x2="438.73" y2="728.8"/>
<line x1="509.19" y1="722.5" x2="509.19" y2="728.8"/>
</g>
<g font-family="Liberation Sans, Arial, sans-serif" font-weight="bold" font-size="20" fill="#000">
<text x="77" y="447.24" text-anchor="end">30</text>
<text x="77" y="503.66" text-anchor="end">20</text>
<text x="77" y="560.08" text-anchor="end">10</text>
<text x="77" y="616.5" text-anchor="end">0</text>
<text x="77" y="672.92" text-anchor="end">–10</text>
<text x="77" y="729.34" text-anchor="end">–20</text>
<text x="86.4" y="747.5" text-anchor="middle">0</text>
<text x="156.87" y="747.5" text-anchor="middle">5</text>
<text x="227.33" y="747.5" text-anchor="middle">10</text>
<text x="297.8" y="747.5" text-anchor="middle">15</text>
<text x="368.26" y="747.5" text-anchor="middle">20</text>
<text x="438.73" y="747.5" text-anchor="middle">25</text>
<text x="509.19" y="747.5" text-anchor="middle">30</text>
</g>
<g font-family="Liberation Sans, Arial, sans-serif" font-size="14.8" fill="#000">
<line x1="110.7" y1="445.6" x2="126.5" y2="445.6" stroke="#0f23dc" stroke-width="3.8" stroke-linecap="round"/>
<circle cx="118.6" cy="445.6" r="2.6" fill="#0f23dc"/>
<text x="134.8" y="450.6" stroke="#000" stroke-width="0.3">Vehicle</text>
<line x1="110.7" y1="460.3" x2="126.5" y2="460.3" stroke="#f0281a" stroke-width="3.8" stroke-linecap="round"/>
<circle cx="118.6" cy="460.3" r="2.8" fill="#f0281a"/>
<text x="134.8" y="465.3" stroke="#000" stroke-width="0.3">3.25 mg/kg q3wx2</text>
<line x1="110.7" y1="475" x2="126.5" y2="475" stroke="#1ebe1e" stroke-width="3.8" stroke-linecap="round"/>
<circle cx="118.6" cy="475" r="2.6" fill="#1ebe1e"/>
<text x="134.8" y="480" stroke="#000" stroke-width="0.3">3.5 mg/kg q3wx2</text>
<line x1="110.7" y1="489.7" x2="126.5" y2="489.7" stroke="#b43ce6" stroke-width="3.8" stroke-linecap="round"/>
<circle cx="118.6" cy="489.7" r="2.6" fill="#b43ce6"/>
<text x="134.8" y="494.7" stroke="#000" stroke-width="0.3">5 mg/kg q3wx2</text>
<line x1="110.7" y1="504.4" x2="126.5" y2="504.4" stroke="#f5961e" stroke-width="3.8" stroke-linecap="round"/>
<circle cx="118.6" cy="504.4" r="2.6" fill="#f5961e"/>
<text x="134.8" y="509.4" stroke="#000" stroke-width="0.3">7.5 mg/kg q3wx2</text>
</g>
<g font-family="Liberation Sans, Arial, sans-serif" font-weight="bold" fill="#000">
<text x="0" y="22.5" font-size="32">A</text>
<text x="0" y="433.9" font-size="32">B</text>
</g>
<g font-family="Liberation Sans, Arial, sans-serif" font-size="22.1" fill="#000" stroke="#000" stroke-width="0.3">
<text x="291.8" y="371.3" text-anchor="middle">Time (day)</text>
<text transform="translate(19.5 161) rotate(-90)" text-anchor="middle">% Change from baseline</text>
<text x="293.6" y="782" text-anchor="middle">Time (day)</text>
<text transform="translate(19.5 576.8) rotate(-90)" text-anchor="middle">% Change from baseline</text>
</g>
</svg>
</body></html>
